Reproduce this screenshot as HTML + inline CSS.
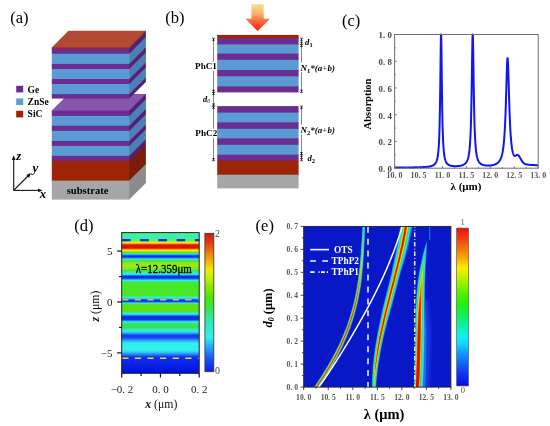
<!DOCTYPE html>
<html><head><meta charset="utf-8"><title>figure</title>
<style>
html,body{margin:0;padding:0;background:#fff;}
svg{display:block;font-family:"Liberation Serif","Times New Roman",serif;}
</style></head><body>
<svg width="550" height="426" viewBox="0 0 550 426">
<rect width="550" height="426" fill="#fff"/>
<text x="10.20" y="23.20" font-size="16.5" font-weight="normal" font-style="normal" fill="#000" text-anchor="start" >(a)</text>
<polygon points="51.80,111.40 51.80,110.60 68.40,94.00 145.90,94.00 145.90,94.80 129.30,111.40" fill="#8656aa" />
<polygon points="128.70,110.60 129.30,110.60 145.90,94.00 145.90,100.00 129.30,116.60 128.70,116.60" fill="#551f78" />
<rect x="51.80" y="110.60" width="77.50" height="6.00" fill="#6b2d8f" />
<polygon points="128.70,115.90 129.30,115.90 145.90,99.30 145.90,109.80 129.30,126.40 128.70,126.40" fill="#4a80b5" />
<rect x="51.80" y="115.90" width="77.50" height="10.50" fill="#5b9bd5" />
<polygon points="128.70,125.70 129.30,125.70 145.90,109.10 145.90,115.00 129.30,131.60 128.70,131.60" fill="#551f78" />
<rect x="51.80" y="125.70" width="77.50" height="5.90" fill="#6b2d8f" />
<polygon points="128.70,130.90 129.30,130.90 145.90,114.30 145.90,125.10 129.30,141.70 128.70,141.70" fill="#4a80b5" />
<rect x="51.80" y="130.90" width="77.50" height="10.80" fill="#5b9bd5" />
<polygon points="128.70,141.00 129.30,141.00 145.90,124.40 145.90,130.00 129.30,146.60 128.70,146.60" fill="#551f78" />
<rect x="51.80" y="141.00" width="77.50" height="5.60" fill="#6b2d8f" />
<polygon points="128.70,145.90 129.30,145.90 145.90,129.30 145.90,139.90 129.30,156.50 128.70,156.50" fill="#4a80b5" />
<rect x="51.80" y="145.90" width="77.50" height="10.60" fill="#5b9bd5" />
<polygon points="128.70,155.80 129.30,155.80 145.90,139.20 145.90,145.00 129.30,161.60 128.70,161.60" fill="#551f78" />
<rect x="51.80" y="155.80" width="77.50" height="5.80" fill="#6b2d8f" />
<polygon points="128.70,160.90 129.30,160.90 145.90,144.30 145.90,164.70 129.30,181.30 128.70,181.30" fill="#7a1c08" />
<rect x="51.80" y="160.90" width="77.50" height="20.40" fill="#9e2408" />
<polygon points="128.70,180.60 129.30,180.60 145.90,164.00 145.90,183.00 129.30,199.60 128.70,199.60" fill="#8b8b8b" />
<rect x="51.80" y="180.60" width="77.50" height="19.00" fill="#a6a6a6" />
<polygon points="51.80,48.20 51.80,47.40 68.40,30.80 145.90,30.80 145.90,31.60 129.30,48.20" fill="#b04a33" />
<polygon points="128.70,47.40 129.30,47.40 145.90,30.80 145.90,32.70 129.30,49.30 128.70,49.30" fill="#8a2010" />
<rect x="51.80" y="47.40" width="77.50" height="1.90" fill="#a8280c" />
<polygon points="128.70,48.60 129.30,48.60 145.90,32.00 145.90,37.80 129.30,54.40 128.70,54.40" fill="#551f78" />
<rect x="51.80" y="48.60" width="77.50" height="5.80" fill="#6b2d8f" />
<polygon points="128.70,53.70 129.30,53.70 145.90,37.10 145.90,48.00 129.30,64.60 128.70,64.60" fill="#4a80b5" />
<rect x="51.80" y="53.70" width="77.50" height="10.90" fill="#5b9bd5" />
<polygon points="128.70,63.90 129.30,63.90 145.90,47.30 145.90,53.20 129.30,69.80 128.70,69.80" fill="#551f78" />
<rect x="51.80" y="63.90" width="77.50" height="5.90" fill="#6b2d8f" />
<polygon points="128.70,69.10 129.30,69.10 145.90,52.50 145.90,63.10 129.30,79.70 128.70,79.70" fill="#4a80b5" />
<rect x="51.80" y="69.10" width="77.50" height="10.60" fill="#5b9bd5" />
<polygon points="128.70,79.00 129.30,79.00 145.90,62.40 145.90,68.10 129.30,84.70 128.70,84.70" fill="#551f78" />
<rect x="51.80" y="79.00" width="77.50" height="5.70" fill="#6b2d8f" />
<polygon points="128.70,84.00 129.30,84.00 145.90,67.40 145.90,78.20 129.30,94.80 128.70,94.80" fill="#4a80b5" />
<rect x="51.80" y="84.00" width="77.50" height="10.80" fill="#5b9bd5" />
<polygon points="128.70,94.10 129.30,94.10 145.90,77.50 145.90,82.00 129.30,98.60 128.70,98.60" fill="#551f78" />
<rect x="51.80" y="94.10" width="77.50" height="4.50" fill="#6b2d8f" />
<text x="87.60" y="193.60" font-size="10.6" font-weight="bold" font-style="normal" fill="#000" text-anchor="middle" >substrate</text>
<rect x="16.20" y="85.80" width="7.00" height="6.60" fill="#6b2d8f" />
<text x="27.60" y="92.60" font-size="9.5" font-weight="bold" font-style="normal" fill="#000" text-anchor="start" >Ge</text>
<rect x="16.20" y="98.40" width="7.00" height="6.60" fill="#5b9bd5" />
<text x="27.60" y="104.50" font-size="9.5" font-weight="bold" font-style="normal" fill="#000" text-anchor="start" >ZnSe</text>
<rect x="16.20" y="110.80" width="7.00" height="6.60" fill="#9e2408" />
<text x="27.60" y="116.90" font-size="9.5" font-weight="bold" font-style="normal" fill="#000" text-anchor="start" >SiC</text>
<g stroke="#111" stroke-width="1.1" fill="none">
<path d="M13.7,190.4 V158"/><path d="M13.7,190.4 H40"/><path d="M13.7,190.4 L29,175"/>
</g>
<polygon points="13.70,155.20 11.80,160.00 15.60,160.00" fill="#111" />
<polygon points="42.60,190.40 38.00,188.50 38.00,192.30" fill="#111" />
<polygon points="31.00,172.90 26.30,175.00 29.00,177.70" fill="#111" />
<text x="16.30" y="159.90" font-size="12.8" font-weight="bold" font-style="italic" fill="#000" text-anchor="start" >z</text>
<text x="32.40" y="172.40" font-size="12.8" font-weight="bold" font-style="italic" fill="#000" text-anchor="start" >y</text>
<text x="39.80" y="198.40" font-size="12.8" font-weight="bold" font-style="italic" fill="#000" text-anchor="start" >x</text>
<text x="165.20" y="23.20" font-size="16.5" font-weight="normal" font-style="normal" fill="#000" text-anchor="start" >(b)</text>
<rect x="217.20" y="34.90" width="81.40" height="3.90" fill="#9e2408" />
<rect x="217.20" y="38.20" width="81.40" height="6.80" fill="#6b2d8f" />
<rect x="217.20" y="44.40" width="81.40" height="9.80" fill="#5b9bd5" />
<rect x="217.20" y="53.60" width="81.40" height="6.80" fill="#6b2d8f" />
<rect x="217.20" y="59.80" width="81.40" height="10.80" fill="#5b9bd5" />
<rect x="217.20" y="70.00" width="81.40" height="6.90" fill="#6b2d8f" />
<rect x="217.20" y="76.30" width="81.40" height="10.70" fill="#5b9bd5" />
<rect x="217.20" y="86.40" width="81.40" height="6.00" fill="#6b2d8f" />
<rect x="217.20" y="106.10" width="81.40" height="7.10" fill="#6b2d8f" />
<rect x="217.20" y="112.60" width="81.40" height="10.40" fill="#5b9bd5" />
<rect x="217.20" y="122.40" width="81.40" height="7.00" fill="#6b2d8f" />
<rect x="217.20" y="128.80" width="81.40" height="10.20" fill="#5b9bd5" />
<rect x="217.20" y="138.40" width="81.40" height="7.00" fill="#6b2d8f" />
<rect x="217.20" y="144.80" width="81.40" height="10.50" fill="#5b9bd5" />
<rect x="217.20" y="154.70" width="81.40" height="6.60" fill="#6b2d8f" />
<rect x="217.20" y="160.70" width="81.40" height="14.60" fill="#9e2408" />
<rect x="217.20" y="174.70" width="81.40" height="13.70" fill="#a6a6a6" />
<defs><linearGradient id="arr" x1="0" y1="0" x2="0" y2="1"><stop offset="0" stop-color="#f9e08c"/><stop offset="0.35" stop-color="#f9b070"/><stop offset="0.62" stop-color="#fc6a40"/><stop offset="1" stop-color="#ff1a10"/></linearGradient></defs>
<path d="M251.4,4.2 H263.7 V18.8 H270 L257.6,31 L245.4,18.8 H251.4 Z" fill="url(#arr)"/>
<line x1="213.5" y1="38.20" x2="213.5" y2="61.50" stroke="#858585" stroke-width="1.0"/>
<line x1="213.5" y1="71.00" x2="213.5" y2="92.40" stroke="#858585" stroke-width="1.0"/>
<polygon points="213.50,38.40 212.20,40.80 214.80,40.80" fill="#111" />
<polygon points="213.50,92.20 212.20,89.80 214.80,89.80" fill="#111" />
<line x1="211.9" y1="38.20" x2="215.1" y2="38.20" stroke="#222" stroke-width="0.7"/>
<line x1="211.9" y1="92.40" x2="215.1" y2="92.40" stroke="#222" stroke-width="0.7"/>
<line x1="213.5" y1="92.40" x2="213.5" y2="106.10" stroke="#858585" stroke-width="1.0"/>
<polygon points="213.50,92.60 212.20,95.00 214.80,95.00" fill="#111" />
<polygon points="213.50,105.90 212.20,103.50 214.80,103.50" fill="#111" />
<line x1="211.9" y1="92.40" x2="215.1" y2="92.40" stroke="#222" stroke-width="0.7"/>
<line x1="211.9" y1="106.10" x2="215.1" y2="106.10" stroke="#222" stroke-width="0.7"/>
<line x1="213.5" y1="106.10" x2="213.5" y2="128.50" stroke="#858585" stroke-width="1.0"/>
<line x1="213.5" y1="138.00" x2="213.5" y2="160.70" stroke="#858585" stroke-width="1.0"/>
<polygon points="213.50,106.30 212.20,108.70 214.80,108.70" fill="#111" />
<polygon points="213.50,160.50 212.20,158.10 214.80,158.10" fill="#111" />
<line x1="211.9" y1="106.10" x2="215.1" y2="106.10" stroke="#222" stroke-width="0.7"/>
<line x1="211.9" y1="160.70" x2="215.1" y2="160.70" stroke="#222" stroke-width="0.7"/>
<line x1="301.5" y1="38.20" x2="301.5" y2="44.40" stroke="#858585" stroke-width="1.0"/>
<polygon points="301.50,38.40 300.20,40.80 302.80,40.80" fill="#111" />
<polygon points="301.50,44.20 300.20,41.80 302.80,41.80" fill="#111" />
<line x1="299.9" y1="38.20" x2="303.1" y2="38.20" stroke="#222" stroke-width="0.7"/>
<line x1="299.9" y1="44.40" x2="303.1" y2="44.40" stroke="#222" stroke-width="0.7"/>
<line x1="301.5" y1="44.40" x2="301.5" y2="62.50" stroke="#858585" stroke-width="1.0"/>
<line x1="301.5" y1="72.30" x2="301.5" y2="92.40" stroke="#858585" stroke-width="1.0"/>
<polygon points="301.50,44.60 300.20,47.00 302.80,47.00" fill="#111" />
<polygon points="301.50,92.20 300.20,89.80 302.80,89.80" fill="#111" />
<line x1="299.9" y1="44.40" x2="303.1" y2="44.40" stroke="#222" stroke-width="0.7"/>
<line x1="299.9" y1="92.40" x2="303.1" y2="92.40" stroke="#222" stroke-width="0.7"/>
<line x1="301.5" y1="106.10" x2="301.5" y2="124.50" stroke="#858585" stroke-width="1.0"/>
<line x1="301.5" y1="134.50" x2="301.5" y2="154.70" stroke="#858585" stroke-width="1.0"/>
<polygon points="301.50,106.30 300.20,108.70 302.80,108.70" fill="#111" />
<polygon points="301.50,154.50 300.20,152.10 302.80,152.10" fill="#111" />
<line x1="299.9" y1="106.10" x2="303.1" y2="106.10" stroke="#222" stroke-width="0.7"/>
<line x1="299.9" y1="154.70" x2="303.1" y2="154.70" stroke="#222" stroke-width="0.7"/>
<line x1="301.5" y1="154.70" x2="301.5" y2="160.70" stroke="#858585" stroke-width="1.0"/>
<polygon points="301.50,154.90 300.20,157.30 302.80,157.30" fill="#111" />
<polygon points="301.50,160.50 300.20,158.10 302.80,158.10" fill="#111" />
<line x1="299.9" y1="154.70" x2="303.1" y2="154.70" stroke="#222" stroke-width="0.7"/>
<line x1="299.9" y1="160.70" x2="303.1" y2="160.70" stroke="#222" stroke-width="0.7"/>
<text x="206.00" y="68.80" font-size="9.2" font-weight="bold" font-style="normal" fill="#000" text-anchor="middle" >PhC1</text>
<text x="206.30" y="136.00" font-size="9.2" font-weight="bold" font-style="normal" fill="#000" text-anchor="middle" >PhC2</text>
<text x="202.90" y="101.80" font-size="8.4" font-weight="bold" font-style="italic" fill="#000" text-anchor="start" >d<tspan font-size="6.5" dy="1.4" fill="#666">0</tspan></text>
<text x="305.10" y="44.70" font-size="8.6" font-weight="bold" font-style="italic" fill="#000" text-anchor="start" >d<tspan font-size="6.5" dy="1.9" font-style="normal">1</tspan></text>
<text x="307.50" y="160.60" font-size="8.6" font-weight="bold" font-style="italic" fill="#000" text-anchor="start" >d<tspan font-size="6.5" dy="1.9" font-style="normal">2</tspan></text>
<text x="300.60" y="70.60" font-size="9.0" font-weight="bold" font-style="italic" fill="#000" text-anchor="start" >N<tspan font-size="6.5" dy="2.0" font-style="normal">1</tspan><tspan dy="-2.0">*(<tspan>a</tspan><tspan font-style="normal" fill="#555">+</tspan>b)</tspan></text>
<text x="300.60" y="132.60" font-size="9.0" font-weight="bold" font-style="italic" fill="#000" text-anchor="start" >N<tspan font-size="6.5" dy="2.0" font-style="normal">2</tspan><tspan dy="-2.0">*(<tspan>a</tspan><tspan font-style="normal" fill="#555">+</tspan>b)</tspan></text>
<text x="342.00" y="26.00" font-size="16.5" font-weight="normal" font-style="normal" fill="#000" text-anchor="start" >(c)</text>
<path d="M394.60,167.53 L394.70,167.53 L394.81,167.53 L394.91,167.53 L395.01,167.53 L395.11,167.53 L395.22,167.53 L395.32,167.53 L395.42,167.53 L395.52,167.53 L395.63,167.53 L395.73,167.53 L395.83,167.53 L395.93,167.53 L396.04,167.53 L396.14,167.53 L396.24,167.53 L396.34,167.53 L396.45,167.53 L396.55,167.53 L396.65,167.53 L396.75,167.52 L396.86,167.52 L396.96,167.52 L397.06,167.52 L397.16,167.52 L397.27,167.52 L397.37,167.52 L397.47,167.52 L397.57,167.52 L397.68,167.52 L397.78,167.52 L397.88,167.52 L397.98,167.52 L398.09,167.52 L398.19,167.52 L398.29,167.52 L398.40,167.52 L398.50,167.52 L398.60,167.52 L398.70,167.51 L398.81,167.51 L398.91,167.51 L399.01,167.51 L399.11,167.51 L399.22,167.51 L399.32,167.51 L399.42,167.51 L399.52,167.51 L399.63,167.51 L399.73,167.51 L399.83,167.51 L399.93,167.51 L400.04,167.51 L400.14,167.51 L400.24,167.51 L400.34,167.51 L400.45,167.51 L400.55,167.50 L400.65,167.50 L400.75,167.50 L400.86,167.50 L400.96,167.50 L401.06,167.50 L401.16,167.50 L401.27,167.50 L401.37,167.50 L401.47,167.50 L401.57,167.50 L401.68,167.50 L401.78,167.50 L401.88,167.50 L401.99,167.50 L402.09,167.50 L402.19,167.49 L402.29,167.49 L402.40,167.49 L402.50,167.49 L402.60,167.49 L402.70,167.49 L402.81,167.49 L402.91,167.49 L403.01,167.49 L403.11,167.49 L403.22,167.49 L403.32,167.49 L403.42,167.49 L403.52,167.49 L403.63,167.48 L403.73,167.48 L403.83,167.48 L403.93,167.48 L404.04,167.48 L404.14,167.48 L404.24,167.48 L404.34,167.48 L404.45,167.48 L404.55,167.48 L404.65,167.48 L404.75,167.48 L404.86,167.48 L404.96,167.47 L405.06,167.47 L405.16,167.47 L405.27,167.47 L405.37,167.47 L405.47,167.47 L405.58,167.47 L405.68,167.47 L405.78,167.47 L405.88,167.47 L405.99,167.47 L406.09,167.47 L406.19,167.46 L406.29,167.46 L406.40,167.46 L406.50,167.46 L406.60,167.46 L406.70,167.46 L406.81,167.46 L406.91,167.46 L407.01,167.46 L407.11,167.46 L407.22,167.46 L407.32,167.45 L407.42,167.45 L407.52,167.45 L407.63,167.45 L407.73,167.45 L407.83,167.45 L407.93,167.45 L408.04,167.45 L408.14,167.45 L408.24,167.45 L408.34,167.44 L408.45,167.44 L408.55,167.44 L408.65,167.44 L408.75,167.44 L408.86,167.44 L408.96,167.44 L409.06,167.44 L409.17,167.44 L409.27,167.43 L409.37,167.43 L409.47,167.43 L409.58,167.43 L409.68,167.43 L409.78,167.43 L409.88,167.43 L409.99,167.43 L410.09,167.43 L410.19,167.42 L410.29,167.42 L410.40,167.42 L410.50,167.42 L410.60,167.42 L410.70,167.42 L410.81,167.42 L410.91,167.42 L411.01,167.41 L411.11,167.41 L411.22,167.41 L411.32,167.41 L411.42,167.41 L411.52,167.41 L411.63,167.41 L411.73,167.40 L411.83,167.40 L411.93,167.40 L412.04,167.40 L412.14,167.40 L412.24,167.40 L412.34,167.40 L412.45,167.39 L412.55,167.39 L412.65,167.39 L412.76,167.39 L412.86,167.39 L412.96,167.39 L413.06,167.39 L413.17,167.38 L413.27,167.38 L413.37,167.38 L413.47,167.38 L413.58,167.38 L413.68,167.38 L413.78,167.37 L413.88,167.37 L413.99,167.37 L414.09,167.37 L414.19,167.37 L414.29,167.37 L414.40,167.36 L414.50,167.36 L414.60,167.36 L414.70,167.36 L414.81,167.36 L414.91,167.35 L415.01,167.35 L415.11,167.35 L415.22,167.35 L415.32,167.35 L415.42,167.35 L415.52,167.34 L415.63,167.34 L415.73,167.34 L415.83,167.34 L415.93,167.34 L416.04,167.33 L416.14,167.33 L416.24,167.33 L416.35,167.33 L416.45,167.32 L416.55,167.32 L416.65,167.32 L416.76,167.32 L416.86,167.32 L416.96,167.31 L417.06,167.31 L417.17,167.31 L417.27,167.31 L417.37,167.30 L417.47,167.30 L417.58,167.30 L417.68,167.30 L417.78,167.29 L417.88,167.29 L417.99,167.29 L418.09,167.29 L418.19,167.28 L418.29,167.28 L418.40,167.28 L418.50,167.27 L418.60,167.27 L418.70,167.27 L418.81,167.27 L418.91,167.26 L419.01,167.26 L419.11,167.26 L419.22,167.25 L419.32,167.25 L419.42,167.25 L419.52,167.24 L419.63,167.24 L419.73,167.24 L419.83,167.24 L419.94,167.23 L420.04,167.23 L420.14,167.23 L420.24,167.22 L420.35,167.22 L420.45,167.21 L420.55,167.21 L420.65,167.21 L420.76,167.20 L420.86,167.20 L420.96,167.20 L421.06,167.19 L421.17,167.19 L421.27,167.18 L421.37,167.18 L421.47,167.18 L421.58,167.17 L421.68,167.17 L421.78,167.16 L421.88,167.16 L421.99,167.15 L422.09,167.15 L422.19,167.15 L422.29,167.14 L422.40,167.14 L422.50,167.13 L422.60,167.13 L422.70,167.12 L422.81,167.12 L422.91,167.11 L423.01,167.11 L423.11,167.10 L423.22,167.10 L423.32,167.09 L423.42,167.09 L423.53,167.08 L423.63,167.07 L423.73,167.07 L423.83,167.06 L423.94,167.06 L424.04,167.05 L424.14,167.04 L424.24,167.04 L424.35,167.03 L424.45,167.03 L424.55,167.02 L424.65,167.01 L424.76,167.01 L424.86,167.00 L424.96,166.99 L425.06,166.98 L425.17,166.98 L425.27,166.97 L425.37,166.96 L425.47,166.95 L425.58,166.95 L425.68,166.94 L425.78,166.93 L425.88,166.92 L425.99,166.91 L426.09,166.90 L426.19,166.90 L426.29,166.89 L426.40,166.88 L426.50,166.87 L426.60,166.86 L426.70,166.85 L426.81,166.84 L426.91,166.83 L427.01,166.82 L427.12,166.81 L427.22,166.80 L427.32,166.79 L427.42,166.78 L427.53,166.76 L427.63,166.75 L427.73,166.74 L427.83,166.73 L427.94,166.71 L428.04,166.70 L428.14,166.69 L428.24,166.68 L428.35,166.66 L428.45,166.65 L428.55,166.63 L428.65,166.62 L428.76,166.60 L428.86,166.59 L428.96,166.57 L429.06,166.56 L429.17,166.54 L429.27,166.52 L429.37,166.50 L429.47,166.49 L429.58,166.47 L429.68,166.45 L429.78,166.43 L429.88,166.41 L429.99,166.39 L430.09,166.37 L430.19,166.35 L430.29,166.32 L430.40,166.30 L430.50,166.28 L430.60,166.25 L430.71,166.23 L430.81,166.20 L430.91,166.18 L431.01,166.15 L431.12,166.12 L431.22,166.09 L431.32,166.06 L431.42,166.03 L431.53,166.00 L431.63,165.97 L431.73,165.94 L431.83,165.90 L431.94,165.87 L432.04,165.83 L432.14,165.79 L432.24,165.75 L432.35,165.71 L432.45,165.67 L432.55,165.63 L432.65,165.58 L432.76,165.53 L432.86,165.49 L432.96,165.44 L433.06,165.38 L433.17,165.33 L433.27,165.27 L433.37,165.21 L433.47,165.15 L433.58,165.09 L433.68,165.03 L433.78,164.96 L433.88,164.89 L433.99,164.81 L434.09,164.73 L434.19,164.65 L434.30,164.57 L434.40,164.48 L434.50,164.39 L434.60,164.29 L434.71,164.19 L434.81,164.09 L434.91,163.98 L435.01,163.86 L435.12,163.74 L435.22,163.61 L435.32,163.48 L435.42,163.34 L435.53,163.19 L435.63,163.03 L435.73,162.87 L435.83,162.69 L435.94,162.51 L436.04,162.31 L436.14,162.10 L436.24,161.88 L436.35,161.65 L436.45,161.40 L436.55,161.14 L436.65,160.86 L436.76,160.56 L436.86,160.23 L436.96,159.89 L437.06,159.52 L437.17,159.13 L437.27,158.71 L437.37,158.25 L437.47,157.76 L437.58,157.23 L437.68,156.65 L437.78,156.03 L437.89,155.35 L437.99,154.61 L438.09,153.81 L438.19,152.93 L438.30,151.97 L438.40,150.91 L438.50,149.75 L438.60,148.47 L438.71,147.05 L438.81,145.48 L438.91,143.73 L439.01,141.78 L439.12,139.60 L439.22,137.16 L439.32,134.43 L439.42,131.35 L439.53,127.88 L439.63,123.97 L439.73,119.56 L439.83,114.59 L439.94,109.01 L440.04,102.76 L440.14,95.82 L440.24,88.20 L440.35,79.97 L440.45,71.30 L440.55,62.45 L440.65,53.86 L440.76,46.06 L440.86,39.71 L440.96,35.43 L441.06,34.50 L441.17,34.69 L441.27,38.34 L441.37,44.19 L441.48,51.66 L441.58,60.10 L441.68,68.92 L441.78,77.67 L441.89,86.04 L441.99,93.83 L442.09,100.95 L442.19,107.37 L442.30,113.13 L442.40,118.25 L442.50,122.80 L442.60,126.83 L442.71,130.41 L442.81,133.58 L442.91,136.41 L443.01,138.92 L443.12,141.16 L443.22,143.16 L443.32,144.96 L443.42,146.57 L443.53,148.02 L443.63,149.34 L443.73,150.53 L443.83,151.61 L443.94,152.59 L444.04,153.49 L444.14,154.31 L444.24,155.06 L444.35,155.75 L444.45,156.38 L444.55,156.96 L444.65,157.50 L444.76,158.00 L444.86,158.46 L444.96,158.89 L445.07,159.29 L445.17,159.66 L445.27,160.01 L445.37,160.33 L445.48,160.63 L445.58,160.91 L445.68,161.18 L445.78,161.43 L445.89,161.66 L445.99,161.88 L446.09,162.09 L446.19,162.28 L446.30,162.47 L446.40,162.64 L446.50,162.80 L446.60,162.96 L446.71,163.11 L446.81,163.25 L446.91,163.38 L447.01,163.50 L447.12,163.62 L447.22,163.74 L447.32,163.84 L447.42,163.95 L447.53,164.05 L447.63,164.14 L447.73,164.23 L447.83,164.31 L447.94,164.39 L448.04,164.47 L448.14,164.54 L448.24,164.62 L448.35,164.68 L448.45,164.75 L448.55,164.81 L448.66,164.87 L448.76,164.93 L448.86,164.98 L448.96,165.03 L449.07,165.08 L449.17,165.13 L449.27,165.18 L449.37,165.22 L449.48,165.26 L449.58,165.30 L449.68,165.34 L449.78,165.38 L449.89,165.42 L449.99,165.45 L450.09,165.49 L450.19,165.52 L450.30,165.55 L450.40,165.58 L450.50,165.61 L450.60,165.63 L450.71,165.66 L450.81,165.69 L450.91,165.71 L451.01,165.73 L451.12,165.76 L451.22,165.78 L451.32,165.80 L451.42,165.82 L451.53,165.84 L451.63,165.86 L451.73,165.88 L451.83,165.89 L451.94,165.91 L452.04,165.92 L452.14,165.94 L452.25,165.95 L452.35,165.97 L452.45,165.98 L452.55,165.99 L452.66,166.01 L452.76,166.02 L452.86,166.03 L452.96,166.04 L453.07,166.05 L453.17,166.06 L453.27,166.07 L453.37,166.08 L453.48,166.08 L453.58,166.09 L453.68,166.10 L453.78,166.11 L453.89,166.11 L453.99,166.12 L454.09,166.12 L454.19,166.13 L454.30,166.13 L454.40,166.14 L454.50,166.14 L454.60,166.15 L454.71,166.15 L454.81,166.15 L454.91,166.15 L455.01,166.16 L455.12,166.16 L455.22,166.16 L455.32,166.16 L455.42,166.16 L455.53,166.16 L455.63,166.16 L455.73,166.16 L455.84,166.16 L455.94,166.16 L456.04,166.16 L456.14,166.16 L456.25,166.15 L456.35,166.15 L456.45,166.15 L456.55,166.15 L456.66,166.14 L456.76,166.14 L456.86,166.13 L456.96,166.13 L457.07,166.13 L457.17,166.12 L457.27,166.12 L457.37,166.11 L457.48,166.10 L457.58,166.10 L457.68,166.09 L457.78,166.08 L457.89,166.08 L457.99,166.07 L458.09,166.06 L458.19,166.05 L458.30,166.04 L458.40,166.03 L458.50,166.02 L458.60,166.01 L458.71,166.00 L458.81,165.99 L458.91,165.98 L459.01,165.97 L459.12,165.95 L459.22,165.94 L459.32,165.93 L459.43,165.91 L459.53,165.90 L459.63,165.88 L459.73,165.87 L459.84,165.85 L459.94,165.84 L460.04,165.82 L460.14,165.80 L460.25,165.78 L460.35,165.76 L460.45,165.75 L460.55,165.73 L460.66,165.70 L460.76,165.68 L460.86,165.66 L460.96,165.64 L461.07,165.62 L461.17,165.59 L461.27,165.57 L461.37,165.54 L461.48,165.51 L461.58,165.49 L461.68,165.46 L461.78,165.43 L461.89,165.40 L461.99,165.37 L462.09,165.34 L462.19,165.30 L462.30,165.27 L462.40,165.24 L462.50,165.20 L462.60,165.16 L462.71,165.12 L462.81,165.08 L462.91,165.04 L463.02,165.00 L463.12,164.95 L463.22,164.91 L463.32,164.86 L463.43,164.81 L463.53,164.76 L463.63,164.71 L463.73,164.66 L463.84,164.60 L463.94,164.54 L464.04,164.48 L464.14,164.42 L464.25,164.35 L464.35,164.29 L464.45,164.22 L464.55,164.15 L464.66,164.07 L464.76,163.99 L464.86,163.91 L464.96,163.83 L465.07,163.74 L465.17,163.65 L465.27,163.56 L465.37,163.46 L465.48,163.35 L465.58,163.25 L465.68,163.14 L465.78,163.02 L465.89,162.90 L465.99,162.77 L466.09,162.64 L466.19,162.50 L466.30,162.35 L466.40,162.20 L466.50,162.04 L466.61,161.87 L466.71,161.70 L466.81,161.52 L466.91,161.32 L467.02,161.12 L467.12,160.90 L467.22,160.68 L467.32,160.44 L467.43,160.19 L467.53,159.93 L467.63,159.65 L467.73,159.35 L467.84,159.04 L467.94,158.71 L468.04,158.36 L468.14,157.98 L468.25,157.59 L468.35,157.16 L468.45,156.71 L468.55,156.23 L468.66,155.72 L468.76,155.17 L468.86,154.59 L468.96,153.96 L469.07,153.28 L469.17,152.55 L469.27,151.77 L469.37,150.93 L469.48,150.02 L469.58,149.03 L469.68,147.96 L469.78,146.80 L469.89,145.54 L469.99,144.16 L470.09,142.67 L470.20,141.03 L470.30,139.24 L470.40,137.27 L470.50,135.12 L470.61,132.75 L470.71,130.15 L470.81,127.28 L470.91,124.11 L471.02,120.63 L471.12,116.79 L471.22,112.57 L471.32,107.93 L471.43,102.85 L471.53,97.33 L471.63,91.35 L471.73,84.95 L471.84,78.19 L471.94,71.15 L472.04,64.00 L472.14,56.95 L472.25,50.28 L472.35,44.29 L472.45,39.34 L472.55,35.75 L472.66,34.50 L472.76,34.50 L472.86,35.22 L472.96,38.50 L473.07,43.20 L473.17,49.00 L473.27,55.56 L473.37,62.56 L473.48,69.71 L473.58,76.77 L473.68,83.60 L473.79,90.08 L473.89,96.14 L473.99,101.75 L474.09,106.91 L474.20,111.64 L474.30,115.94 L474.40,119.85 L474.50,123.40 L474.61,126.62 L474.71,129.54 L474.81,132.20 L474.91,134.61 L475.02,136.80 L475.12,138.80 L475.22,140.62 L475.32,142.29 L475.43,143.81 L475.53,145.20 L475.63,146.48 L475.73,147.66 L475.84,148.74 L475.94,149.74 L476.04,150.67 L476.14,151.52 L476.25,152.31 L476.35,153.05 L476.45,153.73 L476.55,154.37 L476.66,154.96 L476.76,155.51 L476.86,156.03 L476.96,156.51 L477.07,156.97 L477.17,157.39 L477.27,157.79 L477.38,158.17 L477.48,158.52 L477.58,158.85 L477.68,159.17 L477.79,159.46 L477.89,159.74 L477.99,160.01 L478.09,160.26 L478.20,160.49 L478.30,160.72 L478.40,160.93 L478.50,161.13 L478.61,161.33 L478.71,161.51 L478.81,161.68 L478.91,161.85 L479.02,162.01 L479.12,162.16 L479.22,162.30 L479.32,162.44 L479.43,162.57 L479.53,162.69 L479.63,162.81 L479.73,162.93 L479.84,163.04 L479.94,163.14 L480.04,163.24 L480.14,163.34 L480.25,163.43 L480.35,163.52 L480.45,163.61 L480.55,163.69 L480.66,163.77 L480.76,163.84 L480.86,163.91 L480.97,163.98 L481.07,164.05 L481.17,164.11 L481.27,164.17 L481.38,164.23 L481.48,164.29 L481.58,164.35 L481.68,164.40 L481.79,164.45 L481.89,164.50 L481.99,164.55 L482.09,164.59 L482.20,164.64 L482.30,164.68 L482.40,164.72 L482.50,164.76 L482.61,164.80 L482.71,164.83 L482.81,164.87 L482.91,164.90 L483.02,164.94 L483.12,164.97 L483.22,165.00 L483.32,165.03 L483.43,165.05 L483.53,165.08 L483.63,165.11 L483.73,165.13 L483.84,165.16 L483.94,165.18 L484.04,165.20 L484.14,165.22 L484.25,165.25 L484.35,165.27 L484.45,165.28 L484.56,165.30 L484.66,165.32 L484.76,165.34 L484.86,165.35 L484.97,165.37 L485.07,165.38 L485.17,165.40 L485.27,165.41 L485.38,165.43 L485.48,165.44 L485.58,165.45 L485.68,165.46 L485.79,165.47 L485.89,165.48 L485.99,165.49 L486.09,165.50 L486.20,165.51 L486.30,165.52 L486.40,165.52 L486.50,165.53 L486.61,165.54 L486.71,165.54 L486.81,165.55 L486.91,165.55 L487.02,165.56 L487.12,165.56 L487.22,165.57 L487.32,165.57 L487.43,165.57 L487.53,165.58 L487.63,165.58 L487.73,165.58 L487.84,165.58 L487.94,165.58 L488.04,165.58 L488.15,165.58 L488.25,165.58 L488.35,165.58 L488.45,165.58 L488.56,165.58 L488.66,165.57 L488.76,165.57 L488.86,165.57 L488.97,165.56 L489.07,165.56 L489.17,165.56 L489.27,165.55 L489.38,165.55 L489.48,165.54 L489.58,165.53 L489.68,165.53 L489.79,165.52 L489.89,165.51 L489.99,165.51 L490.09,165.50 L490.20,165.49 L490.30,165.48 L490.40,165.47 L490.50,165.46 L490.61,165.45 L490.71,165.44 L490.81,165.43 L490.91,165.42 L491.02,165.40 L491.12,165.39 L491.22,165.38 L491.32,165.37 L491.43,165.35 L491.53,165.34 L491.63,165.32 L491.74,165.31 L491.84,165.29 L491.94,165.27 L492.04,165.26 L492.15,165.24 L492.25,165.22 L492.35,165.20 L492.45,165.18 L492.56,165.16 L492.66,165.14 L492.76,165.12 L492.86,165.10 L492.97,165.08 L493.07,165.05 L493.17,165.03 L493.27,165.01 L493.38,164.98 L493.48,164.95 L493.58,164.93 L493.68,164.90 L493.79,164.87 L493.89,164.84 L493.99,164.81 L494.09,164.78 L494.20,164.75 L494.30,164.72 L494.40,164.69 L494.50,164.65 L494.61,164.62 L494.71,164.58 L494.81,164.54 L494.91,164.51 L495.02,164.47 L495.12,164.43 L495.22,164.38 L495.33,164.34 L495.43,164.30 L495.53,164.25 L495.63,164.21 L495.74,164.16 L495.84,164.11 L495.94,164.06 L496.04,164.01 L496.15,163.96 L496.25,163.90 L496.35,163.85 L496.45,163.79 L496.56,163.73 L496.66,163.67 L496.76,163.60 L496.86,163.54 L496.97,163.47 L497.07,163.40 L497.17,163.33 L497.27,163.26 L497.38,163.18 L497.48,163.11 L497.58,163.03 L497.68,162.94 L497.79,162.86 L497.89,162.77 L497.99,162.68 L498.09,162.59 L498.20,162.49 L498.30,162.39 L498.40,162.29 L498.50,162.18 L498.61,162.07 L498.71,161.96 L498.81,161.84 L498.92,161.72 L499.02,161.59 L499.12,161.46 L499.22,161.33 L499.33,161.19 L499.43,161.04 L499.53,160.89 L499.63,160.74 L499.74,160.58 L499.84,160.41 L499.94,160.24 L500.04,160.06 L500.15,159.87 L500.25,159.68 L500.35,159.47 L500.45,159.26 L500.56,159.05 L500.66,158.82 L500.76,158.58 L500.86,158.34 L500.97,158.08 L501.07,157.81 L501.17,157.53 L501.27,157.24 L501.38,156.94 L501.48,156.62 L501.58,156.29 L501.68,155.94 L501.79,155.57 L501.89,155.19 L501.99,154.79 L502.09,154.38 L502.20,153.94 L502.30,153.48 L502.40,152.99 L502.51,152.49 L502.61,151.95 L502.71,151.39 L502.81,150.80 L502.92,150.18 L503.02,149.52 L503.12,148.83 L503.22,148.10 L503.33,147.33 L503.43,146.52 L503.53,145.66 L503.63,144.75 L503.74,143.78 L503.84,142.77 L503.94,141.68 L504.04,140.54 L504.15,139.32 L504.25,138.03 L504.35,136.67 L504.45,135.21 L504.56,133.67 L504.66,132.03 L504.76,130.29 L504.86,128.44 L504.97,126.48 L505.07,124.40 L505.17,122.19 L505.27,119.85 L505.38,117.38 L505.48,114.76 L505.58,112.01 L505.68,109.11 L505.79,106.07 L505.89,102.90 L505.99,99.60 L506.10,96.19 L506.20,92.68 L506.30,89.10 L506.40,85.49 L506.51,81.87 L506.61,78.30 L506.71,74.83 L506.81,71.52 L506.92,68.43 L507.02,65.63 L507.12,63.19 L507.22,61.17 L507.33,59.62 L507.43,58.60 L507.53,58.12 L507.63,58.22 L507.74,58.87 L507.84,60.07 L507.94,61.78 L508.04,63.95 L508.15,66.51 L508.25,69.41 L508.35,72.58 L508.45,75.94 L508.56,79.45 L508.66,83.04 L508.76,86.65 L508.86,90.25 L508.97,93.80 L509.07,97.27 L509.17,100.64 L509.27,103.89 L509.38,107.01 L509.48,109.99 L509.58,112.83 L509.69,115.53 L509.79,118.08 L509.89,120.50 L509.99,122.78 L510.10,124.94 L510.20,126.96 L510.30,128.87 L510.40,130.67 L510.51,132.36 L510.61,133.95 L510.71,135.44 L510.81,136.85 L510.92,138.17 L511.02,139.41 L511.12,140.58 L511.22,141.68 L511.33,142.72 L511.43,143.69 L511.53,144.61 L511.63,145.47 L511.74,146.28 L511.84,147.04 L511.94,147.76 L512.04,148.44 L512.15,149.07 L512.25,149.67 L512.35,150.23 L512.45,150.76 L512.56,151.25 L512.66,151.72 L512.76,152.15 L512.86,152.56 L512.97,152.93 L513.07,153.29 L513.17,153.61 L513.28,153.91 L513.38,154.19 L513.48,154.44 L513.58,154.68 L513.69,154.89 L513.79,155.08 L513.89,155.25 L513.99,155.40 L514.10,155.54 L514.20,155.65 L514.30,155.75 L514.40,155.83 L514.51,155.89 L514.61,155.94 L514.71,155.98 L514.81,156.00 L514.92,156.00 L515.02,156.00 L515.12,155.98 L515.22,155.96 L515.33,155.92 L515.43,155.87 L515.53,155.82 L515.63,155.76 L515.74,155.70 L515.84,155.63 L515.94,155.56 L516.04,155.48 L516.15,155.41 L516.25,155.33 L516.35,155.26 L516.45,155.19 L516.56,155.12 L516.66,155.06 L516.76,155.00 L516.87,154.95 L516.97,154.91 L517.07,154.88 L517.17,154.85 L517.28,154.84 L517.38,154.84 L517.48,154.85 L517.58,154.87 L517.69,154.90 L517.79,154.95 L517.89,155.01 L517.99,155.08 L518.10,155.15 L518.20,155.24 L518.30,155.33 L518.40,155.42 L518.51,155.53 L518.61,155.64 L518.71,155.75 L518.81,155.88 L518.92,156.01 L519.02,156.14 L519.12,156.28 L519.22,156.43 L519.33,156.58 L519.43,156.74 L519.53,156.90 L519.63,157.06 L519.74,157.23 L519.84,157.40 L519.94,157.58 L520.04,157.76 L520.15,157.94 L520.25,158.12 L520.35,158.30 L520.46,158.49 L520.56,158.67 L520.66,158.86 L520.76,159.04 L520.87,159.23 L520.97,159.41 L521.07,159.59 L521.17,159.77 L521.28,159.95 L521.38,160.13 L521.48,160.30 L521.58,160.48 L521.69,160.65 L521.79,160.81 L521.89,160.97 L521.99,161.13 L522.10,161.29 L522.20,161.44 L522.30,161.58 L522.40,161.72 L522.51,161.86 L522.61,161.99 L522.71,162.12 L522.81,162.25 L522.92,162.37 L523.02,162.48 L523.12,162.59 L523.22,162.70 L523.33,162.80 L523.43,162.90 L523.53,162.99 L523.63,163.08 L523.74,163.17 L523.84,163.25 L523.94,163.33 L524.05,163.40 L524.15,163.47 L524.25,163.54 L524.35,163.61 L524.46,163.67 L524.56,163.73 L524.66,163.78 L524.76,163.83 L524.87,163.88 L524.97,163.93 L525.07,163.98 L525.17,164.02 L525.28,164.06 L525.38,164.10 L525.48,164.13 L525.58,164.17 L525.69,164.20 L525.79,164.23 L525.89,164.26 L525.99,164.29 L526.10,164.31 L526.20,164.34 L526.30,164.36 L526.40,164.39 L526.51,164.41 L526.61,164.43 L526.71,164.45 L526.81,164.47 L526.92,164.49 L527.02,164.51 L527.12,164.52 L527.22,164.54 L527.33,164.55 L527.43,164.57 L527.53,164.58 L527.64,164.60 L527.74,164.61 L527.84,164.63 L527.94,164.64 L528.05,164.65 L528.15,164.66 L528.25,164.67 L528.35,164.69 L528.46,164.70 L528.56,164.71 L528.66,164.72 L528.76,164.73 L528.87,164.74 L528.97,164.75 L529.07,164.76 L529.17,164.77 L529.28,164.78 L529.38,164.79 L529.48,164.80 L529.58,164.81 L529.69,164.82 L529.79,164.82 L529.89,164.83 L529.99,164.84 L530.10,164.85 L530.20,164.86 L530.30,164.86 L530.40,164.87 L530.51,164.88 L530.61,164.89 L530.71,164.90 L530.81,164.90 L530.92,164.91 L531.02,164.92 L531.12,164.93 L531.23,164.93 L531.33,164.94 L531.43,164.95 L531.53,164.95 L531.64,164.96 L531.74,164.97 L531.84,164.97 L531.94,164.98 L532.05,164.99 L532.15,164.99 L532.25,165.00 L532.35,165.00 L532.46,165.01 L532.56,165.02 L532.66,165.02 L532.76,165.03 L532.87,165.03 L532.97,165.04 L533.07,165.05 L533.17,165.05 L533.28,165.06 L533.38,165.06 L533.48,165.07 L533.58,165.07 L533.69,165.08 L533.79,165.08 L533.89,165.09 L533.99,165.09 L534.10,165.10 L534.20,165.10 L534.30,165.11 L534.40,165.11 L534.51,165.12 L534.61,165.12 L534.71,165.13 L534.82,165.13 L534.92,165.14 L535.02,165.14 L535.12,165.15 L535.23,165.15 L535.33,165.15 L535.43,165.16 L535.53,165.16 L535.64,165.17 L535.74,165.17 L535.84,165.18 L535.94,165.18 L536.05,165.18 L536.15,165.19 L536.25,165.19 L536.35,165.20 L536.46,165.20 L536.56,165.20 L536.66,165.21 L536.76,165.21 L536.87,165.22 L536.97,165.22 L537.07,165.22 L537.17,165.23 L537.28,165.23 L537.38,165.23 L537.48,165.24 L537.58,165.24 L537.69,165.24 L537.79,165.25 L537.89,165.25 L537.99,165.26 L538.10,165.26 L538.20,165.26" fill="none" stroke="#1414f0" stroke-width="2.0" stroke-linejoin="round"/>
<rect x="394.6" y="34.5" width="143.60" height="133.70" fill="none" stroke="#707070" stroke-width="1"/>
<line x1="394.60" y1="168.2" x2="394.60" y2="166.0" stroke="#707070" stroke-width="0.9"/>
<text x="394.60" y="177.90" font-size="8.0" font-weight="bold" font-style="normal" fill="#555" text-anchor="middle" >10. 0</text>
<line x1="406.57" y1="168.2" x2="406.57" y2="166.89999999999998" stroke="#707070" stroke-width="0.9"/>
<line x1="418.53" y1="168.2" x2="418.53" y2="166.0" stroke="#707070" stroke-width="0.9"/>
<text x="418.53" y="177.90" font-size="8.0" font-weight="bold" font-style="normal" fill="#555" text-anchor="middle" >10. 5</text>
<line x1="430.50" y1="168.2" x2="430.50" y2="166.89999999999998" stroke="#707070" stroke-width="0.9"/>
<line x1="442.47" y1="168.2" x2="442.47" y2="166.0" stroke="#707070" stroke-width="0.9"/>
<text x="442.47" y="177.90" font-size="8.0" font-weight="bold" font-style="normal" fill="#555" text-anchor="middle" >11. 0</text>
<line x1="454.43" y1="168.2" x2="454.43" y2="166.89999999999998" stroke="#707070" stroke-width="0.9"/>
<line x1="466.40" y1="168.2" x2="466.40" y2="166.0" stroke="#707070" stroke-width="0.9"/>
<text x="466.40" y="177.90" font-size="8.0" font-weight="bold" font-style="normal" fill="#555" text-anchor="middle" >11. 5</text>
<line x1="478.37" y1="168.2" x2="478.37" y2="166.89999999999998" stroke="#707070" stroke-width="0.9"/>
<line x1="490.33" y1="168.2" x2="490.33" y2="166.0" stroke="#707070" stroke-width="0.9"/>
<text x="490.33" y="177.90" font-size="8.0" font-weight="bold" font-style="normal" fill="#555" text-anchor="middle" >12. 0</text>
<line x1="502.30" y1="168.2" x2="502.30" y2="166.89999999999998" stroke="#707070" stroke-width="0.9"/>
<line x1="514.27" y1="168.2" x2="514.27" y2="166.0" stroke="#707070" stroke-width="0.9"/>
<text x="514.27" y="177.90" font-size="8.0" font-weight="bold" font-style="normal" fill="#555" text-anchor="middle" >12. 5</text>
<line x1="526.23" y1="168.2" x2="526.23" y2="166.89999999999998" stroke="#707070" stroke-width="0.9"/>
<line x1="538.20" y1="168.2" x2="538.20" y2="166.0" stroke="#707070" stroke-width="0.9"/>
<text x="538.20" y="177.90" font-size="8.0" font-weight="bold" font-style="normal" fill="#555" text-anchor="middle" >13. 0</text>
<line x1="394.6" y1="168.20" x2="396.8" y2="168.20" stroke="#707070" stroke-width="0.9"/>
<text x="391.80" y="172.10" font-size="8.8" font-weight="bold" font-style="normal" fill="#444" text-anchor="end" >0. 0</text>
<line x1="394.6" y1="154.83" x2="395.90000000000003" y2="154.83" stroke="#707070" stroke-width="0.9"/>
<line x1="394.6" y1="141.46" x2="396.8" y2="141.46" stroke="#707070" stroke-width="0.9"/>
<text x="391.80" y="145.36" font-size="8.8" font-weight="bold" font-style="normal" fill="#444" text-anchor="end" >0. 2</text>
<line x1="394.6" y1="128.09" x2="395.90000000000003" y2="128.09" stroke="#707070" stroke-width="0.9"/>
<line x1="394.6" y1="114.72" x2="396.8" y2="114.72" stroke="#707070" stroke-width="0.9"/>
<text x="391.80" y="118.62" font-size="8.8" font-weight="bold" font-style="normal" fill="#444" text-anchor="end" >0. 4</text>
<line x1="394.6" y1="101.35" x2="395.90000000000003" y2="101.35" stroke="#707070" stroke-width="0.9"/>
<line x1="394.6" y1="87.98" x2="396.8" y2="87.98" stroke="#707070" stroke-width="0.9"/>
<text x="391.80" y="91.88" font-size="8.8" font-weight="bold" font-style="normal" fill="#444" text-anchor="end" >0. 6</text>
<line x1="394.6" y1="74.61" x2="395.90000000000003" y2="74.61" stroke="#707070" stroke-width="0.9"/>
<line x1="394.6" y1="61.24" x2="396.8" y2="61.24" stroke="#707070" stroke-width="0.9"/>
<text x="391.80" y="65.14" font-size="8.8" font-weight="bold" font-style="normal" fill="#444" text-anchor="end" >0. 8</text>
<line x1="394.6" y1="47.87" x2="395.90000000000003" y2="47.87" stroke="#707070" stroke-width="0.9"/>
<line x1="394.6" y1="34.50" x2="396.8" y2="34.50" stroke="#707070" stroke-width="0.9"/>
<text x="391.80" y="38.40" font-size="8.8" font-weight="bold" font-style="normal" fill="#444" text-anchor="end" >1. 0</text>
<text x="466.00" y="190.20" font-size="11" font-weight="bold" font-style="normal" fill="#000" text-anchor="middle" >λ (μm)</text>
<text x="0.00" y="0.00" font-size="10.5" font-weight="bold" font-style="normal" fill="#000" text-anchor="middle" transform="translate(370.6,104) rotate(-90)">Absorption</text>
<defs><linearGradient id="dfield" x1="0" y1="0" x2="0" y2="1">
<stop offset="0.0000" stop-color="#40f0a8"/>
<stop offset="0.0441" stop-color="#40f0a0"/>
<stop offset="0.0583" stop-color="#60f070"/>
<stop offset="0.0654" stop-color="#a8f020"/>
<stop offset="0.0711" stop-color="#f0f000"/>
<stop offset="0.0789" stop-color="#f8a000"/>
<stop offset="0.0846" stop-color="#f03800"/>
<stop offset="0.0903" stop-color="#e01010"/>
<stop offset="0.1059" stop-color="#e01010"/>
<stop offset="0.1130" stop-color="#f03800"/>
<stop offset="0.1194" stop-color="#f8a000"/>
<stop offset="0.1265" stop-color="#f0f000"/>
<stop offset="0.1343" stop-color="#a0f000"/>
<stop offset="0.1421" stop-color="#40e040"/>
<stop offset="0.1521" stop-color="#30f0e0"/>
<stop offset="0.1592" stop-color="#2080f0"/>
<stop offset="0.1649" stop-color="#1030e8"/>
<stop offset="0.1734" stop-color="#1030e8"/>
<stop offset="0.1805" stop-color="#2080f0"/>
<stop offset="0.1876" stop-color="#30f0e0"/>
<stop offset="0.1976" stop-color="#40e060"/>
<stop offset="0.2118" stop-color="#80e820"/>
<stop offset="0.2338" stop-color="#98ec10"/>
<stop offset="0.2573" stop-color="#80e820"/>
<stop offset="0.2701" stop-color="#40e050"/>
<stop offset="0.2843" stop-color="#38ecb0"/>
<stop offset="0.2957" stop-color="#30f0e8"/>
<stop offset="0.3035" stop-color="#2090f0"/>
<stop offset="0.3085" stop-color="#1030e8"/>
<stop offset="0.3227" stop-color="#1030e8"/>
<stop offset="0.3312" stop-color="#2090f0"/>
<stop offset="0.3397" stop-color="#30f0e0"/>
<stop offset="0.3532" stop-color="#40e060"/>
<stop offset="0.3618" stop-color="#48e826"/>
<stop offset="0.4471" stop-color="#48e826"/>
<stop offset="0.4577" stop-color="#30f0b0"/>
<stop offset="0.4662" stop-color="#30f0f0"/>
<stop offset="0.4733" stop-color="#2080f0"/>
<stop offset="0.4790" stop-color="#1030e8"/>
<stop offset="0.4883" stop-color="#1030e8"/>
<stop offset="0.4947" stop-color="#2080f0"/>
<stop offset="0.5004" stop-color="#30f0e0"/>
<stop offset="0.5089" stop-color="#50e040"/>
<stop offset="0.5252" stop-color="#60e010"/>
<stop offset="0.5501" stop-color="#60e010"/>
<stop offset="0.5608" stop-color="#50e030"/>
<stop offset="0.5714" stop-color="#30f0c0"/>
<stop offset="0.5800" stop-color="#30e0f0"/>
<stop offset="0.5885" stop-color="#2080f0"/>
<stop offset="0.5970" stop-color="#1030e8"/>
<stop offset="0.6169" stop-color="#1030e8"/>
<stop offset="0.6254" stop-color="#2080f0"/>
<stop offset="0.6340" stop-color="#30f0e0"/>
<stop offset="0.6439" stop-color="#38e880"/>
<stop offset="0.6567" stop-color="#38e060"/>
<stop offset="0.6780" stop-color="#38e060"/>
<stop offset="0.6887" stop-color="#30f0c0"/>
<stop offset="0.7029" stop-color="#30e0f0"/>
<stop offset="0.7136" stop-color="#30b0f8"/>
<stop offset="0.7242" stop-color="#2060f0"/>
<stop offset="0.7306" stop-color="#1840f0"/>
<stop offset="0.7448" stop-color="#1840f0"/>
<stop offset="0.7591" stop-color="#2080f8"/>
<stop offset="0.7733" stop-color="#30c0f8"/>
<stop offset="0.7875" stop-color="#30f0e8"/>
<stop offset="0.8344" stop-color="#30f0e8"/>
<stop offset="0.8486" stop-color="#30d0f8"/>
<stop offset="0.8628" stop-color="#2890f8"/>
<stop offset="0.8735" stop-color="#2060f0"/>
<stop offset="0.8842" stop-color="#1030f0"/>
<stop offset="0.9410" stop-color="#0820e8"/>
<stop offset="1.0000" stop-color="#0010e0"/>
</linearGradient>
<linearGradient id="cbar" x1="0" y1="1" x2="0" y2="0">
<stop offset="0.0" stop-color="#1020e8"/>
<stop offset="0.06" stop-color="#1040f0"/>
<stop offset="0.124" stop-color="#2070f0"/>
<stop offset="0.185" stop-color="#20b0f8"/>
<stop offset="0.248" stop-color="#30f0f0"/>
<stop offset="0.363" stop-color="#30e8b0"/>
<stop offset="0.439" stop-color="#30e860"/>
<stop offset="0.515" stop-color="#40e810"/>
<stop offset="0.546" stop-color="#50e800"/>
<stop offset="0.605" stop-color="#80e800"/>
<stop offset="0.677" stop-color="#c0f000"/>
<stop offset="0.736" stop-color="#f0f000"/>
<stop offset="0.783" stop-color="#f0c000"/>
<stop offset="0.855" stop-color="#f08010"/>
<stop offset="0.927" stop-color="#e04010"/>
<stop offset="1.0" stop-color="#d01818"/>
</linearGradient>
<linearGradient id="cbar2" x1="0" y1="1" x2="0" y2="0">
<stop offset="0.0" stop-color="#0010e8"/>
<stop offset="0.069" stop-color="#1030f0"/>
<stop offset="0.134" stop-color="#1060f0"/>
<stop offset="0.197" stop-color="#1090f8"/>
<stop offset="0.26" stop-color="#10d0f8"/>
<stop offset="0.31" stop-color="#10f0f0"/>
<stop offset="0.373" stop-color="#10f0b0"/>
<stop offset="0.437" stop-color="#10f060"/>
<stop offset="0.513" stop-color="#20f010"/>
<stop offset="0.567" stop-color="#40f000"/>
<stop offset="0.627" stop-color="#80f000"/>
<stop offset="0.686" stop-color="#c0f000"/>
<stop offset="0.746" stop-color="#f8f000"/>
<stop offset="0.805" stop-color="#f8b000"/>
<stop offset="0.877" stop-color="#f07010"/>
<stop offset="0.948" stop-color="#f03010"/>
<stop offset="1.0" stop-color="#f01010"/>
</linearGradient>
<filter id="bl" x="-50%" y="-5%" width="200%" height="110%"><feGaussianBlur stdDeviation="0.55"/></filter>
<filter id="bl2" x="-50%" y="-5%" width="200%" height="110%"><feGaussianBlur stdDeviation="1.5"/></filter>
<clipPath id="eclip"><rect x="303.7" y="226.4" width="147.2" height="160.7"/></clipPath>
</defs>
<text x="74.30" y="230.80" font-size="16.5" font-weight="normal" font-style="normal" fill="#000" text-anchor="start" >(d)</text>
<rect x="121.7" y="232.6" width="77.50" height="140.70" fill="url(#dfield)"/>
<line x1="122.0" y1="240.2" x2="199.2" y2="240.2" stroke="#1428e8" stroke-width="2.2" stroke-dasharray="8.6 9.6"/>
<line x1="122.2" y1="299.7" x2="199.2" y2="299.7" stroke="#e8c040" stroke-width="1.6" stroke-dasharray="6.2 6.42"/>
<line x1="122.2" y1="358.3" x2="199.2" y2="358.3" stroke="#f0e000" stroke-width="1.6" stroke-dasharray="6.2 6.42"/>
<rect x="121.7" y="232.6" width="77.50" height="140.70" fill="none" stroke="#222" stroke-width="1"/>
<text x="163.80" y="272.80" font-size="12.2" font-weight="normal" font-style="normal" fill="#000" text-anchor="middle" textLength="56" lengthAdjust="spacingAndGlyphs" stroke="#000" stroke-width="0.3">λ=12.359μm</text>
<line x1="117.10" y1="251.10" x2="121.7" y2="251.10" stroke="#111" stroke-width="1.2"/>
<line x1="119.10" y1="276.55" x2="121.7" y2="276.55" stroke="#111" stroke-width="1.2"/>
<line x1="117.10" y1="302.00" x2="121.7" y2="302.00" stroke="#111" stroke-width="1.2"/>
<line x1="119.10" y1="327.45" x2="121.7" y2="327.45" stroke="#111" stroke-width="1.2"/>
<line x1="117.10" y1="352.90" x2="121.7" y2="352.90" stroke="#111" stroke-width="1.2"/>
<text x="112.40" y="254.90" font-size="11" font-weight="normal" font-style="normal" fill="#222" text-anchor="end" >5</text>
<text x="112.40" y="305.80" font-size="11" font-weight="normal" font-style="normal" fill="#222" text-anchor="end" >0</text>
<text x="112.40" y="356.70" font-size="11" font-weight="normal" font-style="normal" fill="#222" text-anchor="end" >−5</text>
<line x1="121.70" y1="373.3" x2="121.70" y2="377.5" stroke="#111" stroke-width="1.2"/>
<line x1="141.07" y1="373.3" x2="141.07" y2="375.90000000000003" stroke="#111" stroke-width="1.2"/>
<line x1="160.45" y1="373.3" x2="160.45" y2="377.5" stroke="#111" stroke-width="1.2"/>
<line x1="179.82" y1="373.3" x2="179.82" y2="375.90000000000003" stroke="#111" stroke-width="1.2"/>
<line x1="199.20" y1="373.3" x2="199.20" y2="377.5" stroke="#111" stroke-width="1.2"/>
<text x="122.00" y="392.50" font-size="11" font-weight="normal" font-style="normal" fill="#222" text-anchor="middle" >−0. 2</text>
<text x="160.60" y="392.50" font-size="11" font-weight="normal" font-style="normal" fill="#222" text-anchor="middle" >0. 0</text>
<text x="199.20" y="392.50" font-size="11" font-weight="normal" font-style="normal" fill="#222" text-anchor="middle" >0. 2</text>
<text x="161.30" y="407.60" font-size="11.8" font-weight="normal" font-style="normal" fill="#111" text-anchor="middle" ><tspan font-weight="bold" font-style="italic">x</tspan> (μm)</text>
<text x="0.00" y="0.00" font-size="11.8" font-weight="normal" font-style="normal" fill="#111" text-anchor="middle" transform="translate(98.9,306) rotate(-90)"><tspan font-weight="bold" font-style="italic">z</tspan> (μm)</text>
<rect x="204.9" y="233.3" width="8.9" height="138.4" fill="url(#cbar)" stroke="#333" stroke-width="0.8"/>
<text x="215.00" y="237.40" font-size="10" font-weight="normal" font-style="normal" fill="#444" text-anchor="start" >2</text>
<text x="215.00" y="374.30" font-size="10" font-weight="normal" font-style="normal" fill="#444" text-anchor="start" >0</text>
<text x="255.60" y="231.00" font-size="16.5" font-weight="normal" font-style="normal" fill="#000" text-anchor="start" >(e)</text>
<rect x="303.7" y="226.4" width="147.20" height="160.70" fill="#0818c6"/>
<g clip-path="url(#eclip)">
<g filter="url(#bl)"><path d="M362.5,226.0 L362.3,228.6 L362.2,231.1 L362.0,233.7 L361.8,236.2 L361.7,238.8 L361.5,241.4 L361.3,243.9 L361.2,246.5 L361.0,249.1 L360.8,251.6 L360.6,254.2 L360.4,256.8 L360.2,259.3 L360.0,261.9 L359.7,264.4 L359.5,267.0 L359.2,269.6 L358.9,272.1 L358.6,274.7 L358.2,277.2 L357.9,279.8 L357.5,282.4 L357.1,284.9 L356.7,287.5 L356.2,290.1 L355.7,292.6 L355.2,295.2 L354.7,297.8 L354.1,300.3 L353.5,302.9 L352.9,305.4 L352.2,308.0 L351.5,310.6 L350.8,313.1 L350.0,315.7 L349.2,318.2 L348.3,320.8 L347.5,323.4 L346.6,325.9 L345.6,328.5 L344.6,331.1 L343.6,333.6 L342.5,336.2 L341.4,338.8 L340.3,341.3 L339.1,343.9 L337.9,346.4 L336.6,349.0 L335.3,351.6 L334.0,354.1 L332.6,356.7 L331.2,359.2 L329.8,361.8 L328.3,364.4 L326.8,366.9 L325.3,369.5 L323.7,372.1 L322.1,374.6 L320.5,377.2 L318.8,379.8 L317.1,382.3 L315.4,384.9 L313.7,387.4 L311.9,390.0 L316.9,390.0 L318.7,387.4 L320.5,384.9 L322.2,382.3 L324.0,379.8 L325.6,377.2 L327.3,374.6 L328.9,372.1 L330.5,369.5 L332.0,366.9 L333.5,364.4 L334.9,361.8 L336.3,359.2 L337.7,356.7 L339.0,354.1 L340.3,351.6 L341.5,349.0 L342.7,346.4 L343.9,343.9 L345.0,341.3 L346.2,338.8 L347.2,336.2 L348.2,333.6 L349.2,331.1 L350.2,328.5 L351.1,325.9 L352.0,323.4 L352.8,320.8 L353.6,318.2 L354.4,315.7 L355.1,313.1 L355.8,310.6 L356.5,308.0 L357.1,305.4 L357.7,302.9 L358.3,300.3 L358.8,297.8 L359.3,295.2 L359.8,292.6 L360.2,290.1 L360.7,287.5 L361.0,284.9 L361.4,282.4 L361.7,279.8 L362.1,277.2 L362.3,274.7 L362.6,272.1 L362.8,269.6 L363.1,267.0 L363.3,264.4 L363.4,261.9 L363.6,259.3 L363.8,256.8 L363.9,254.2 L364.1,251.6 L364.2,249.1 L364.3,246.5 L364.5,243.9 L364.6,241.4 L364.7,238.8 L364.8,236.2 L364.9,233.7 L365.0,231.1 L365.2,228.6 L365.3,226.0Z" fill="#2a6cf0"/><path d="M362.9,226.0 L362.7,228.6 L362.6,231.1 L362.4,233.7 L362.2,236.2 L362.1,238.8 L361.9,241.4 L361.7,243.9 L361.6,246.5 L361.4,249.1 L361.2,251.6 L361.0,254.2 L360.8,256.8 L360.6,259.3 L360.4,261.9 L360.2,264.4 L359.9,267.0 L359.6,269.6 L359.3,272.1 L359.0,274.7 L358.7,277.2 L358.3,279.8 L357.9,282.4 L357.5,284.9 L357.1,287.5 L356.7,290.1 L356.2,292.6 L355.7,295.2 L355.1,297.8 L354.6,300.3 L354.0,302.9 L353.3,305.4 L352.7,308.0 L351.9,310.6 L351.2,313.1 L350.4,315.7 L349.6,318.2 L348.8,320.8 L347.9,323.4 L347.0,325.9 L346.1,328.5 L345.1,331.1 L344.1,333.6 L343.0,336.2 L341.9,338.8 L340.8,341.3 L339.6,343.9 L338.4,346.4 L337.1,349.0 L335.8,351.6 L334.5,354.1 L333.1,356.7 L331.7,359.2 L330.3,361.8 L328.8,364.4 L327.3,366.9 L325.8,369.5 L324.2,372.1 L322.6,374.6 L321.0,377.2 L319.3,379.8 L317.6,382.3 L315.9,384.9 L314.2,387.4 L312.4,390.0 L316.4,390.0 L318.2,387.4 L320.0,384.9 L321.7,382.3 L323.5,379.8 L325.1,377.2 L326.8,374.6 L328.4,372.1 L330.0,369.5 L331.5,366.9 L333.0,364.4 L334.4,361.8 L335.8,359.2 L337.2,356.7 L338.5,354.1 L339.8,351.6 L341.0,349.0 L342.2,346.4 L343.4,343.9 L344.5,341.3 L345.7,338.8 L346.7,336.2 L347.7,333.6 L348.7,331.1 L349.7,328.5 L350.6,325.9 L351.5,323.4 L352.3,320.8 L353.2,318.2 L353.9,315.7 L354.7,313.1 L355.4,310.6 L356.0,308.0 L356.7,305.4 L357.3,302.9 L357.8,300.3 L358.4,297.8 L358.9,295.2 L359.3,292.6 L359.8,290.1 L360.2,287.5 L360.6,284.9 L361.0,282.4 L361.3,279.8 L361.6,277.2 L361.9,274.7 L362.2,272.1 L362.4,269.6 L362.6,267.0 L362.8,264.4 L363.0,261.9 L363.2,259.3 L363.4,256.8 L363.5,254.2 L363.7,251.6 L363.8,249.1 L363.9,246.5 L364.1,243.9 L364.2,241.4 L364.3,238.8 L364.4,236.2 L364.5,233.7 L364.6,231.1 L364.8,228.6 L364.9,226.0Z" fill="#28e0f4"/><path d="M363.6,226.0 L363.4,228.6 L363.2,231.1 L363.0,233.7 L362.8,236.2 L362.7,238.8 L362.5,241.4 L362.3,243.9 L362.1,246.5 L362.0,249.1 L361.8,251.6 L361.6,254.2 L361.4,256.8 L361.1,259.3 L360.9,261.9 L360.6,264.4 L360.4,267.0 L360.1,269.6 L359.8,272.1 L359.5,274.7 L359.1,277.2 L358.8,279.8 L358.4,282.4 L358.0,284.9 L357.6,287.5 L357.1,290.1 L356.6,292.6 L356.1,295.2 L355.6,297.8 L355.0,300.3 L354.4,302.9 L353.8,305.4 L353.1,308.0 L352.4,310.6 L351.7,313.1 L350.9,315.7 L350.1,318.2 L349.3,320.8 L348.4,323.4 L347.5,325.9 L346.6,328.5 L345.6,331.1 L344.6,333.6 L343.5,336.2 L342.4,338.8 L341.3,341.3 L340.1,343.9 L338.9,346.4 L337.7,349.0 L336.4,351.6 L335.1,354.1 L333.7,356.7 L332.3,359.2 L330.9,361.8 L329.4,364.4 L327.9,366.9 L326.4,369.5 L324.8,372.1 L323.2,374.6 L321.6,377.2 L319.9,379.8 L318.2,382.3 L316.5,384.9 L314.7,387.4 L312.9,390.0 L315.8,390.0 L317.6,387.4 L319.4,384.9 L321.2,382.3 L322.9,379.8 L324.6,377.2 L326.2,374.6 L327.8,372.1 L329.4,369.5 L330.9,366.9 L332.4,364.4 L333.8,361.8 L335.2,359.2 L336.6,356.7 L338.0,354.1 L339.2,351.6 L340.5,349.0 L341.7,346.4 L342.9,343.9 L344.0,341.3 L345.2,338.8 L346.2,336.2 L347.2,333.6 L348.2,331.1 L349.2,328.5 L350.1,325.9 L351.0,323.4 L351.8,320.8 L352.7,318.2 L353.4,315.7 L354.2,313.1 L354.9,310.6 L355.6,308.0 L356.2,305.4 L356.8,302.9 L357.4,300.3 L357.9,297.8 L358.4,295.2 L358.9,292.6 L359.3,290.1 L359.8,287.5 L360.1,284.9 L360.5,282.4 L360.8,279.8 L361.2,277.2 L361.4,274.7 L361.7,272.1 L361.9,269.6 L362.2,267.0 L362.4,264.4 L362.5,261.9 L362.7,259.3 L362.9,256.8 L363.0,254.2 L363.1,251.6 L363.3,249.1 L363.4,246.5 L363.5,243.9 L363.6,241.4 L363.7,238.8 L363.8,236.2 L363.9,233.7 L364.0,231.1 L364.1,228.6 L364.3,226.0Z" fill="#3ce040"/><path d="M363.4,233.7 L363.2,236.2 L363.1,238.8 L362.9,241.4 L362.7,243.9 L362.6,246.5 L362.4,249.1 L362.2,251.6 L362.0,254.2 L361.8,256.8 L361.6,259.3 L361.4,261.9 L361.1,264.4 L360.8,267.0 L360.5,269.6 L360.2,272.1 L359.9,274.7 L359.5,277.2 L359.2,279.8 L358.8,282.4 L358.4,284.9 L358.0,287.5 L357.5,290.1 L357.0,292.6 L356.5,295.2 L356.0,297.8 L355.4,300.3 L354.8,302.9 L354.2,305.4 L353.5,308.0 L352.8,310.6 L352.1,313.1 L351.3,315.7 L350.5,318.2 L349.7,320.8 L348.8,323.4 L347.9,325.9 L347.0,328.5 L346.0,331.1 L345.0,333.6 L343.9,336.2 L342.9,338.8 L341.7,341.3 L340.6,343.9 L339.4,346.4 L338.1,349.0 L336.8,351.6 L335.5,354.1 L334.2,356.7 L332.8,359.2 L331.4,361.8 L329.9,364.4 L328.4,366.9 L326.9,369.5 L325.3,372.1 L323.7,374.6 L322.1,377.2 L320.4,379.8 L318.7,382.3 L317.0,384.9 L315.2,387.4 L313.4,390.0 L315.4,390.0 L317.2,387.4 L319.0,384.9 L320.7,382.3 L322.4,379.8 L324.1,377.2 L325.7,374.6 L327.3,372.1 L328.9,369.5 L330.4,366.9 L331.9,364.4 L333.4,361.8 L334.8,359.2 L336.2,356.7 L337.5,354.1 L338.8,351.6 L340.1,349.0 L341.3,346.4 L342.5,343.9 L343.6,341.3 L344.7,338.8 L345.8,336.2 L346.8,333.6 L347.8,331.1 L348.8,328.5 L349.7,325.9 L350.6,323.4 L351.4,320.8 L352.3,318.2 L353.0,315.7 L353.8,313.1 L354.5,310.6 L355.2,308.0 L355.8,305.4 L356.4,302.9 L357.0,300.3 L357.5,297.8 L358.0,295.2 L358.5,292.6 L358.9,290.1 L359.4,287.5 L359.7,284.9 L360.1,282.4 L360.4,279.8 L360.8,277.2 L361.0,274.7 L361.3,272.1 L361.5,269.6 L361.7,267.0 L361.9,264.4 L362.1,261.9 L362.2,259.3 L362.4,256.8 L362.5,254.2 L362.7,251.6 L362.8,249.1 L362.9,246.5 L363.1,243.9 L363.2,241.4 L363.3,238.8 L363.4,236.2 L363.5,233.7Z" fill="#f0e800"/><path d="M361.4,264.4 L361.2,267.0 L360.9,269.6 L360.6,272.1 L360.2,274.7 L359.9,277.2 L359.5,279.8 L359.1,282.4 L358.7,284.9 L358.3,287.5 L357.8,290.1 L357.3,292.6 L356.8,295.2 L356.3,297.8 L355.7,300.3 L355.1,302.9 L354.5,305.4 L353.8,308.0 L353.1,310.6 L352.4,313.1 L351.6,315.7 L350.8,318.2 L350.0,320.8 L349.1,323.4 L348.2,325.9 L347.3,328.5 L346.3,331.1 L345.3,333.6 L344.3,336.2 L343.2,338.8 L342.1,341.3 L340.9,343.9 L339.7,346.4 L338.5,349.0 L337.2,351.6 L335.9,354.1 L334.5,356.7 L333.1,359.2 L331.7,361.8 L330.2,364.4 L328.7,366.9 L327.2,369.5 L325.7,372.1 L324.1,374.6 L322.4,377.2 L320.7,379.8 L319.0,382.3 L317.3,384.9 L315.5,387.4 L313.7,390.0 L315.0,390.0 L316.8,387.4 L318.6,384.9 L320.3,382.3 L322.0,379.8 L323.7,377.2 L325.4,374.6 L327.0,372.1 L328.5,369.5 L330.0,366.9 L331.5,364.4 L333.0,361.8 L334.4,359.2 L335.8,356.7 L337.2,354.1 L338.4,351.6 L339.7,349.0 L340.9,346.4 L342.1,343.9 L343.3,341.3 L344.4,338.8 L345.5,336.2 L346.5,333.6 L347.5,331.1 L348.5,328.5 L349.4,325.9 L350.3,323.4 L351.1,320.8 L352.0,318.2 L352.7,315.7 L353.5,313.1 L354.2,310.6 L354.9,308.0 L355.5,305.4 L356.1,302.9 L356.7,300.3 L357.2,297.8 L357.7,295.2 L358.2,292.6 L358.6,290.1 L359.1,287.5 L359.4,284.9 L359.8,282.4 L360.1,279.8 L360.4,277.2 L360.7,274.7 L360.9,272.1 L361.2,269.6 L361.4,267.0 L361.6,264.4Z" fill="#fa7000"/><path d="M359.4,282.4 L359.0,284.9 L358.6,287.5 L358.1,290.1 L357.6,292.6 L357.1,295.2 L356.5,297.8 L356.0,300.3 L355.4,302.9 L354.7,305.4 L354.1,308.0 L353.4,310.6 L352.7,313.1 L351.9,315.7 L351.1,318.2 L350.3,320.8 L349.4,323.4 L348.5,325.9 L347.5,328.5 L346.6,331.1 L345.6,333.6 L344.5,336.2 L343.4,338.8 L342.3,341.3 L341.2,343.9 L340.0,346.4 L338.7,349.0 L337.5,351.6 L336.2,354.1 L334.8,356.7 L333.4,359.2 L332.0,361.8 L330.5,364.4 L329.0,366.9 L327.5,369.5 L326.0,372.1 L324.4,374.6 L322.7,377.2 L321.0,379.8 L319.3,382.3 L317.6,384.9 L315.8,387.4 L314.0,390.0 L314.7,390.0 L316.5,387.4 L318.3,384.9 L320.0,382.3 L321.7,379.8 L323.4,377.2 L325.1,374.6 L326.7,372.1 L328.2,369.5 L329.7,366.9 L331.2,364.4 L332.7,361.8 L334.1,359.2 L335.5,356.7 L336.9,354.1 L338.2,351.6 L339.4,349.0 L340.7,346.4 L341.9,343.9 L343.0,341.3 L344.1,338.8 L345.2,336.2 L346.3,333.6 L347.3,331.1 L348.2,328.5 L349.2,325.9 L350.0,323.4 L350.9,320.8 L351.7,318.2 L352.5,315.7 L353.2,313.1 L353.9,310.6 L354.6,308.0 L355.3,305.4 L355.9,302.9 L356.4,300.3 L356.9,297.8 L357.4,295.2 L357.9,292.6 L358.3,290.1 L358.8,287.5 L359.1,284.9 L359.5,282.4Z" fill="#e41000"/></g>
<g filter="url(#bl)"><path d="M400.2,226.0 L399.8,228.6 L399.4,231.1 L399.0,233.7 L398.5,236.2 L398.1,238.8 L397.6,241.4 L397.1,243.9 L396.6,246.5 L396.1,249.1 L395.6,251.6 L395.1,254.2 L394.6,256.8 L394.1,259.3 L393.6,261.9 L393.1,264.4 L392.5,267.0 L392.0,269.6 L391.5,272.1 L390.9,274.7 L390.3,277.2 L389.7,279.8 L389.0,282.4 L388.4,284.9 L387.7,287.5 L387.1,290.1 L386.4,292.6 L385.8,295.2 L385.1,297.8 L384.5,300.3 L383.8,302.9 L383.2,305.4 L382.6,308.0 L382.1,310.6 L381.5,313.1 L380.9,315.7 L380.4,318.2 L379.8,320.8 L379.3,323.4 L378.8,325.9 L378.3,328.5 L377.8,331.1 L377.3,333.6 L376.8,336.2 L376.4,338.8 L376.0,341.3 L375.5,343.9 L375.1,346.4 L374.8,349.0 L374.4,351.6 L374.0,354.1 L373.7,356.7 L373.4,359.2 L373.2,361.8 L372.9,364.4 L372.7,366.9 L372.5,369.5 L372.4,372.1 L372.2,374.6 L372.1,377.2 L372.0,379.8 L371.9,382.3 L371.9,384.9 L371.9,387.4 L371.9,390.0 L376.1,390.0 L376.2,387.4 L376.4,384.9 L376.6,382.3 L376.8,379.8 L377.0,377.2 L377.3,374.6 L377.6,372.1 L377.9,369.5 L378.3,366.9 L378.6,364.4 L379.0,361.8 L379.5,359.2 L379.9,356.7 L380.3,354.1 L380.8,351.6 L381.3,349.0 L381.8,346.4 L382.3,343.9 L382.9,341.3 L383.4,338.8 L384.0,336.2 L384.6,333.6 L385.2,331.1 L385.9,328.5 L386.6,325.9 L387.2,323.4 L387.9,320.8 L388.6,318.2 L389.4,315.7 L390.1,313.1 L390.8,310.6 L391.5,308.0 L392.3,305.4 L392.9,302.9 L393.6,300.3 L394.3,297.8 L394.9,295.2 L395.6,292.6 L396.3,290.1 L396.9,287.5 L397.6,284.9 L398.3,282.4 L398.9,279.8 L399.6,277.2 L400.3,274.7 L401.0,272.1 L401.8,269.6 L402.6,267.0 L403.3,264.4 L404.1,261.9 L404.8,259.3 L405.6,256.8 L406.3,254.2 L407.0,251.6 L407.7,249.1 L408.3,246.5 L409.0,243.9 L409.6,241.4 L410.1,238.8 L410.7,236.2 L411.3,233.7 L411.8,231.1 L412.3,228.6 L412.8,226.0Z" fill="#2a6cf0"/><path d="M401.4,226.0 L401.0,228.6 L400.6,231.1 L400.1,233.7 L399.7,236.2 L399.2,238.8 L398.7,241.4 L398.2,243.9 L397.7,246.5 L397.2,249.1 L396.7,251.6 L396.2,254.2 L395.6,256.8 L395.1,259.3 L394.6,261.9 L394.0,264.4 L393.4,267.0 L392.9,269.6 L392.3,272.1 L391.7,274.7 L391.1,277.2 L390.5,279.8 L389.8,282.4 L389.2,284.9 L388.5,287.5 L387.9,290.1 L387.2,292.6 L386.6,295.2 L385.9,297.8 L385.3,300.3 L384.6,302.9 L384.0,305.4 L383.4,308.0 L382.8,310.6 L382.3,313.1 L381.7,315.7 L381.1,318.2 L380.6,320.8 L380.0,323.4 L379.5,325.9 L379.0,328.5 L378.5,331.1 L378.0,333.6 L377.5,336.2 L377.1,338.8 L376.6,341.3 L376.2,343.9 L375.8,346.4 L375.4,349.0 L375.0,351.6 L374.7,354.1 L374.3,356.7 L374.0,359.2 L373.8,361.8 L373.5,364.4 L373.3,366.9 L373.1,369.5 L373.0,372.1 L372.8,374.6 L372.7,377.2 L372.6,379.8 L372.5,382.3 L372.4,384.9 L372.4,387.4 L372.4,390.0 L375.6,390.0 L375.7,387.4 L375.8,384.9 L376.0,382.3 L376.2,379.8 L376.4,377.2 L376.7,374.6 L377.0,372.1 L377.3,369.5 L377.7,366.9 L378.0,364.4 L378.4,361.8 L378.9,359.2 L379.3,356.7 L379.7,354.1 L380.2,351.6 L380.6,349.0 L381.1,346.4 L381.6,343.9 L382.2,341.3 L382.7,338.8 L383.3,336.2 L383.9,333.6 L384.5,331.1 L385.1,328.5 L385.8,325.9 L386.4,323.4 L387.1,320.8 L387.8,318.2 L388.5,315.7 L389.2,313.1 L389.9,310.6 L390.6,308.0 L391.3,305.4 L391.9,302.9 L392.6,300.3 L393.3,297.8 L393.9,295.2 L394.6,292.6 L395.3,290.1 L395.9,287.5 L396.6,284.9 L397.3,282.4 L397.9,279.8 L398.6,277.2 L399.3,274.7 L400.0,272.1 L400.7,269.6 L401.5,267.0 L402.2,264.4 L402.9,261.9 L403.7,259.3 L404.4,256.8 L405.1,254.2 L405.8,251.6 L406.4,249.1 L407.0,246.5 L407.6,243.9 L408.2,241.4 L408.7,238.8 L409.3,236.2 L409.8,233.7 L410.3,231.1 L410.8,228.6 L411.3,226.0Z" fill="#28e0f4"/><path d="M402.8,226.0 L402.4,228.6 L402.0,231.1 L401.5,233.7 L401.0,236.2 L400.6,238.8 L400.1,241.4 L399.6,243.9 L399.0,246.5 L398.5,249.1 L397.9,251.6 L397.4,254.2 L396.8,256.8 L396.3,259.3 L395.7,261.9 L395.1,264.4 L394.5,267.0 L393.9,269.6 L393.3,272.1 L392.7,274.7 L392.1,277.2 L391.5,279.8 L390.8,282.4 L390.2,284.9 L389.5,287.5 L388.9,290.1 L388.2,292.6 L387.6,295.2 L386.9,297.8 L386.3,300.3 L385.6,302.9 L385.0,305.4 L384.4,308.0 L383.8,310.6 L383.2,313.1 L382.6,315.7 L382.0,318.2 L381.5,320.8 L380.9,323.4 L380.4,325.9 L379.8,328.5 L379.3,331.1 L378.8,333.6 L378.3,336.2 L377.9,338.8 L377.4,341.3 L377.0,343.9 L376.5,346.4 L376.1,349.0 L375.8,351.6 L375.4,354.1 L375.1,356.7 L374.7,359.2 L374.4,361.8 L374.2,364.4 L374.0,366.9 L373.8,369.5 L373.6,372.1 L373.4,374.6 L373.3,377.2 L373.2,379.8 L373.1,382.3 L373.1,384.9 L373.1,387.4 L373.1,390.0 L374.9,390.0 L375.0,387.4 L375.2,384.9 L375.4,382.3 L375.6,379.8 L375.8,377.2 L376.1,374.6 L376.3,372.1 L376.7,369.5 L377.0,366.9 L377.4,364.4 L377.8,361.8 L378.2,359.2 L378.6,356.7 L379.0,354.1 L379.4,351.6 L379.9,349.0 L380.4,346.4 L380.9,343.9 L381.4,341.3 L381.9,338.8 L382.5,336.2 L383.1,333.6 L383.7,331.1 L384.3,328.5 L384.9,325.9 L385.5,323.4 L386.2,320.8 L386.8,318.2 L387.5,315.7 L388.1,313.1 L388.8,310.6 L389.5,308.0 L390.2,305.4 L390.8,302.9 L391.5,300.3 L392.2,297.8 L392.8,295.2 L393.5,292.6 L394.2,290.1 L394.8,287.5 L395.5,284.9 L396.2,282.4 L396.8,279.8 L397.5,277.2 L398.2,274.7 L398.9,272.1 L399.6,269.6 L400.3,267.0 L401.0,264.4 L401.6,261.9 L402.3,259.3 L403.0,256.8 L403.6,254.2 L404.3,251.6 L404.9,249.1 L405.5,246.5 L406.1,243.9 L406.6,241.4 L407.2,238.8 L407.7,236.2 L408.2,233.7 L408.7,231.1 L409.2,228.6 L409.6,226.0Z" fill="#3ce040"/><path d="M403.9,226.0 L403.5,228.6 L403.0,231.1 L402.6,233.7 L402.1,236.2 L401.6,238.8 L401.1,241.4 L400.6,243.9 L400.0,246.5 L399.5,249.1 L398.9,251.6 L398.4,254.2 L397.8,256.8 L397.2,259.3 L396.7,261.9 L396.1,264.4 L395.5,267.0 L394.9,269.6 L394.3,272.1 L393.6,274.7 L393.0,277.2 L392.3,279.8 L391.7,282.4 L391.0,284.9 L390.4,287.5 L389.7,290.1 L389.0,292.6 L388.4,295.2 L387.7,297.8 L387.1,300.3 L386.4,302.9 L385.8,305.4 L385.2,308.0 L384.6,310.6 L384.0,313.1 L383.4,315.7 L382.8,318.2 L382.2,320.8 L381.7,323.4 L381.1,325.9 L380.6,328.5 L380.0,331.1 L379.5,333.6 L379.0,336.2 L378.5,338.8 L378.1,341.3 L377.6,343.9 L377.2,346.4 L376.8,349.0 L376.4,351.6 L376.0,354.1 L375.7,356.7 L375.3,359.2 L375.0,361.8 L374.8,364.4 L374.6,366.9 L374.4,369.5 L374.2,372.1 L374.0,374.6 L373.9,377.2 L373.8,379.8 L373.8,382.3 L373.8,384.9 L373.8,387.4 L373.8,390.0 L374.2,390.0 L374.4,387.4 L374.5,384.9 L374.7,382.3 L374.9,379.8 L375.2,377.2 L375.5,374.6 L375.7,372.1 L376.1,369.5 L376.4,366.9 L376.8,364.4 L377.2,361.8 L377.5,359.2 L377.9,356.7 L378.4,354.1 L378.8,351.6 L379.3,349.0 L379.7,346.4 L380.2,343.9 L380.7,341.3 L381.3,338.8 L381.8,336.2 L382.4,333.6 L382.9,331.1 L383.5,328.5 L384.1,325.9 L384.7,323.4 L385.4,320.8 L386.0,318.2 L386.6,315.7 L387.3,313.1 L387.9,310.6 L388.6,308.0 L389.3,305.4 L389.9,302.9 L390.6,300.3 L391.2,297.8 L391.9,295.2 L392.5,292.6 L393.2,290.1 L393.9,287.5 L394.5,284.9 L395.2,282.4 L395.8,279.8 L396.5,277.2 L397.1,274.7 L397.8,272.1 L398.5,269.6 L399.2,267.0 L399.8,264.4 L400.5,261.9 L401.1,259.3 L401.8,256.8 L402.4,254.2 L403.0,251.6 L403.6,249.1 L404.2,246.5 L404.8,243.9 L405.3,241.4 L405.9,238.8 L406.4,236.2 L406.9,233.7 L407.4,231.1 L407.9,228.6 L408.3,226.0Z" fill="#f0e800"/><path d="M404.7,226.0 L404.3,228.6 L403.8,231.1 L403.4,233.7 L402.9,236.2 L402.4,238.8 L401.9,241.4 L401.4,243.9 L400.8,246.5 L400.3,249.1 L399.7,251.6 L399.2,254.2 L398.6,256.8 L398.0,259.3 L397.4,261.9 L396.8,264.4 L396.2,267.0 L395.5,269.6 L394.9,272.1 L394.3,274.7 L393.6,277.2 L393.0,279.8 L392.3,282.4 L391.7,284.9 L391.0,287.5 L390.4,290.1 L389.7,292.6 L389.1,295.2 L388.4,297.8 L387.8,300.3 L387.1,302.9 L386.5,305.4 L385.9,308.0 L385.2,310.6 L384.6,313.1 L384.0,315.7 L383.4,318.2 L382.8,320.8 L382.2,323.4 L381.7,325.9 L381.1,328.5 L380.6,331.1 L380.0,333.6 L379.5,336.2 L379.0,338.8 L378.6,341.3 L378.1,343.9 L377.7,346.4 L377.3,349.0 L376.9,351.6 L376.5,354.1 L376.2,356.7 L375.8,359.2 L375.5,361.8 L375.3,364.4 L375.1,366.9 L374.9,369.5 L374.7,372.1 L374.5,374.6 L374.4,377.2 L374.3,379.8 L374.2,382.3 L374.1,384.9 L374.2,384.9 L374.4,382.3 L374.5,379.8 L374.7,377.2 L375.0,374.6 L375.2,372.1 L375.6,369.5 L375.9,366.9 L376.3,364.4 L376.7,361.8 L377.0,359.2 L377.4,356.7 L377.9,354.1 L378.3,351.6 L378.8,349.0 L379.2,346.4 L379.7,343.9 L380.2,341.3 L380.8,338.8 L381.3,336.2 L381.9,333.6 L382.4,331.1 L383.0,328.5 L383.6,325.9 L384.2,323.4 L384.8,320.8 L385.4,318.2 L386.0,315.7 L386.6,313.1 L387.3,310.6 L387.9,308.0 L388.6,305.4 L389.2,302.9 L389.9,300.3 L390.5,297.8 L391.2,295.2 L391.8,292.6 L392.5,290.1 L393.2,287.5 L393.8,284.9 L394.5,282.4 L395.1,279.8 L395.8,277.2 L396.4,274.7 L397.1,272.1 L397.8,269.6 L398.4,267.0 L399.1,264.4 L399.7,261.9 L400.4,259.3 L401.0,256.8 L401.6,254.2 L402.2,251.6 L402.8,249.1 L403.4,246.5 L403.9,243.9 L404.5,241.4 L405.0,238.8 L405.5,236.2 L406.0,233.7 L406.5,231.1 L407.0,228.6 L407.4,226.0Z" fill="#fa7000"/><path d="M405.2,226.0 L404.8,228.6 L404.3,231.1 L403.9,233.7 L403.4,236.2 L402.9,238.8 L402.3,241.4 L401.8,243.9 L401.3,246.5 L400.7,249.1 L400.1,251.6 L399.6,254.2 L399.0,256.8 L398.4,259.3 L397.8,261.9 L397.2,264.4 L396.6,267.0 L395.9,269.6 L395.3,272.1 L394.7,274.7 L394.0,277.2 L393.4,279.8 L392.7,282.4 L392.1,284.9 L391.4,287.5 L390.8,290.1 L390.1,292.6 L389.5,295.2 L388.8,297.8 L388.2,300.3 L387.5,302.9 L386.9,305.4 L386.3,308.0 L385.6,310.6 L385.0,313.1 L384.4,315.7 L383.8,318.2 L383.2,320.8 L382.6,323.4 L382.1,325.9 L381.5,328.5 L381.0,331.1 L380.4,333.6 L379.9,336.2 L379.4,338.8 L379.0,341.3 L378.5,343.9 L378.1,346.4 L377.7,349.0 L377.3,351.6 L376.9,354.1 L376.6,356.7 L376.2,359.2 L375.9,361.8 L375.6,364.4 L375.4,366.9 L375.1,369.5 L375.3,369.5 L375.6,366.9 L375.9,364.4 L376.3,361.8 L376.6,359.2 L377.0,356.7 L377.5,354.1 L377.9,351.6 L378.4,349.0 L378.8,346.4 L379.3,343.9 L379.8,341.3 L380.4,338.8 L380.9,336.2 L381.4,333.6 L382.0,331.1 L382.6,328.5 L383.1,325.9 L383.7,323.4 L384.3,320.8 L384.9,318.2 L385.5,315.7 L386.2,313.1 L386.8,310.6 L387.4,308.0 L388.1,305.4 L388.7,302.9 L389.4,300.3 L390.0,297.8 L390.7,295.2 L391.4,292.6 L392.0,290.1 L392.7,287.5 L393.4,284.9 L394.0,282.4 L394.7,279.8 L395.3,277.2 L396.0,274.7 L396.7,272.1 L397.3,269.6 L398.0,267.0 L398.6,264.4 L399.2,261.9 L399.9,259.3 L400.5,256.8 L401.1,254.2 L401.7,251.6 L402.3,249.1 L402.9,246.5 L403.4,243.9 L403.9,241.4 L404.5,238.8 L405.0,236.2 L405.5,233.7 L405.9,231.1 L406.4,228.6 L406.8,226.0Z" fill="#e41000"/></g>
<path d="M429.7,226.4 V240" stroke="#2f78f4" stroke-width="1.2" opacity="0.8"/>
<g filter="url(#bl2)"><path d="M420,300 L419.5,330 L418.6,360 L417.8,390 L429,390 L430.2,360 L430.8,330 L428,300 Z" fill="#1638e4"/></g>
<g filter="url(#bl)"><path d="M426.5,242.0 L425.6,244.6 L424.8,247.1 L424.1,249.7 L423.4,252.2 L422.8,254.8 L422.1,257.3 L421.6,259.9 L421.0,262.4 L420.4,265.0 L419.9,267.5 L419.4,270.1 L418.9,272.6 L418.5,275.2 L418.1,277.7 L417.7,280.3 L417.4,282.8 L417.1,285.4 L416.9,287.9 L416.6,290.5 L416.4,293.0 L416.2,295.6 L416.0,298.1 L415.9,300.7 L415.7,303.2 L415.6,305.8 L415.5,308.3 L415.4,310.9 L415.4,313.4 L415.3,316.0 L415.3,318.6 L415.3,321.1 L415.3,323.7 L415.2,326.2 L415.2,328.8 L415.2,331.3 L415.1,333.9 L415.1,336.4 L415.1,339.0 L415.0,341.5 L415.0,344.1 L415.0,346.6 L414.9,349.2 L414.9,351.7 L414.9,354.3 L414.8,356.8 L414.8,359.4 L414.7,361.9 L414.7,364.5 L414.7,367.0 L414.6,369.6 L414.5,372.1 L414.5,374.7 L414.4,377.2 L414.3,379.8 L414.2,382.3 L414.1,384.9 L414.0,387.4 L413.9,390.0 L425.1,390.0 L425.2,387.4 L425.4,384.9 L425.5,382.3 L425.6,379.8 L425.7,377.2 L425.8,374.7 L425.9,372.1 L425.9,369.6 L426.0,367.0 L426.1,364.5 L426.1,361.9 L426.2,359.4 L426.2,356.8 L426.2,354.3 L426.2,351.7 L426.2,349.2 L426.2,346.6 L426.2,344.1 L426.3,341.5 L426.3,339.0 L426.3,336.4 L426.3,333.9 L426.3,331.3 L426.2,328.8 L426.1,326.2 L426.0,323.7 L425.8,321.1 L425.7,318.6 L425.6,316.0 L425.5,313.4 L425.3,310.9 L425.2,308.3 L425.2,305.8 L425.1,303.2 L425.1,300.7 L425.0,298.1 L425.0,295.6 L425.0,293.0 L425.0,290.5 L425.1,287.9 L425.1,285.4 L425.2,282.8 L425.2,280.3 L425.3,277.7 L425.4,275.2 L425.5,272.6 L425.6,270.1 L425.7,267.5 L425.8,265.0 L426.0,262.4 L426.2,259.9 L426.3,257.3 L426.5,254.8 L426.6,252.2 L426.7,249.7 L426.8,247.1 L426.9,244.6 L426.9,242.0Z" fill="#2a6cf0"/><path d="M426.0,244.6 L425.4,247.1 L424.7,249.7 L424.1,252.2 L423.4,254.8 L422.8,257.3 L422.3,259.9 L421.7,262.4 L421.2,265.0 L420.7,267.5 L420.2,270.1 L419.7,272.6 L419.3,275.2 L418.9,277.7 L418.5,280.3 L418.2,282.8 L417.9,285.4 L417.7,287.9 L417.4,290.5 L417.2,293.0 L417.0,295.6 L416.8,298.1 L416.6,300.7 L416.4,303.2 L416.2,305.8 L416.1,308.3 L416.0,310.9 L416.0,313.4 L415.9,316.0 L415.9,318.6 L415.8,321.1 L415.8,323.7 L415.7,326.2 L415.7,328.8 L415.7,331.3 L415.6,333.9 L415.6,336.4 L415.5,339.0 L415.5,341.5 L415.5,344.1 L415.4,346.6 L415.4,349.2 L415.3,351.7 L415.3,354.3 L415.2,356.8 L415.2,359.4 L415.1,361.9 L415.1,364.5 L415.1,367.0 L415.0,369.6 L414.9,372.1 L414.9,374.7 L414.8,377.2 L414.7,379.8 L414.6,382.3 L414.5,384.9 L414.4,387.4 L414.3,390.0 L422.6,390.0 L422.7,387.4 L422.9,384.9 L423.0,382.3 L423.1,379.8 L423.2,377.2 L423.3,374.7 L423.4,372.1 L423.5,369.6 L423.6,367.0 L423.7,364.5 L423.7,361.9 L423.8,359.4 L423.8,356.8 L423.9,354.3 L423.9,351.7 L424.0,349.2 L424.0,346.6 L424.1,344.1 L424.1,341.5 L424.1,339.0 L424.2,336.4 L424.2,333.9 L424.3,331.3 L424.3,328.8 L424.2,326.2 L424.2,323.7 L424.1,321.1 L424.1,318.6 L424.0,316.0 L424.0,313.4 L424.0,310.9 L424.0,308.3 L424.0,305.8 L424.0,303.2 L424.0,300.7 L424.1,298.1 L424.1,295.6 L424.2,293.0 L424.3,290.5 L424.3,287.9 L424.4,285.4 L424.5,282.8 L424.6,280.3 L424.7,277.7 L424.7,275.2 L424.8,272.6 L424.9,270.1 L425.0,267.5 L425.1,265.0 L425.3,262.4 L425.5,259.9 L425.6,257.3 L425.8,254.8 L425.9,252.2 L426.1,249.7 L426.2,247.1 L426.4,244.6Z" fill="#28e0f4"/><path d="M425.3,249.7 L424.8,252.2 L424.4,254.8 L423.9,257.3 L423.3,259.9 L422.8,262.4 L422.3,265.0 L421.8,267.5 L421.3,270.1 L420.8,272.6 L420.4,275.2 L419.9,277.7 L419.5,280.3 L419.2,282.8 L418.9,285.4 L418.6,287.9 L418.3,290.5 L418.1,293.0 L417.8,295.6 L417.6,298.1 L417.4,300.7 L417.2,303.2 L417.0,305.8 L416.9,308.3 L416.8,310.9 L416.7,313.4 L416.7,316.0 L416.6,318.6 L416.6,321.1 L416.5,323.7 L416.5,326.2 L416.4,328.8 L416.4,331.3 L416.3,333.9 L416.3,336.4 L416.2,339.0 L416.2,341.5 L416.1,344.1 L416.1,346.6 L416.0,349.2 L416.0,351.7 L415.9,354.3 L415.8,356.8 L415.8,359.4 L415.7,361.9 L415.7,364.5 L415.6,367.0 L415.6,369.6 L415.5,372.1 L415.4,374.7 L415.3,377.2 L415.3,379.8 L415.2,382.3 L415.0,384.9 L414.9,387.4 L414.8,390.0 L420.5,390.0 L420.7,387.4 L420.8,384.9 L421.0,382.3 L421.1,379.8 L421.2,377.2 L421.3,374.7 L421.4,372.1 L421.5,369.6 L421.6,367.0 L421.7,364.5 L421.8,361.9 L421.9,359.4 L421.9,356.8 L422.0,354.3 L422.1,351.7 L422.1,349.2 L422.2,346.6 L422.2,344.1 L422.3,341.5 L422.3,339.0 L422.4,336.4 L422.4,333.9 L422.5,331.3 L422.5,328.8 L422.5,326.2 L422.6,323.7 L422.6,321.1 L422.7,318.6 L422.7,316.0 L422.8,313.4 L422.8,310.9 L422.9,308.3 L423.0,305.8 L423.0,303.2 L423.1,300.7 L423.1,298.1 L423.2,295.6 L423.3,293.0 L423.3,290.5 L423.4,287.9 L423.5,285.4 L423.5,282.8 L423.6,280.3 L423.7,277.7 L423.7,275.2 L423.8,272.6 L423.9,270.1 L424.0,267.5 L424.1,265.0 L424.3,262.4 L424.5,259.9 L424.6,257.3 L424.9,254.8 L425.2,252.2 L425.5,249.7Z" fill="#3ce040"/><path d="M423.8,259.9 L423.4,262.4 L423.1,265.0 L422.7,267.5 L422.4,270.1 L421.9,272.6 L421.5,275.2 L421.0,277.7 L420.6,280.3 L420.3,282.8 L420.0,285.4 L419.7,287.9 L419.4,290.5 L419.1,293.0 L418.8,295.6 L418.6,298.1 L418.3,300.7 L418.1,303.2 L417.9,305.8 L417.7,308.3 L417.6,310.9 L417.5,313.4 L417.4,316.0 L417.3,318.6 L417.3,321.1 L417.2,323.7 L417.1,326.2 L417.0,328.8 L417.0,331.3 L416.9,333.9 L416.8,336.4 L416.8,339.0 L416.7,341.5 L416.7,344.1 L416.6,346.6 L416.5,349.2 L416.5,351.7 L416.4,354.3 L416.4,356.8 L416.3,359.4 L416.2,361.9 L416.2,364.5 L416.1,367.0 L416.0,369.6 L416.0,372.1 L415.9,374.7 L415.8,377.2 L415.7,379.8 L415.6,382.3 L415.5,384.9 L415.3,387.4 L415.2,390.0 L419.4,390.0 L419.6,387.4 L419.7,384.9 L419.9,382.3 L420.0,379.8 L420.1,377.2 L420.2,374.7 L420.3,372.1 L420.4,369.6 L420.5,367.0 L420.6,364.5 L420.7,361.9 L420.8,359.4 L420.9,356.8 L420.9,354.3 L421.0,351.7 L421.0,349.2 L421.1,346.6 L421.2,344.1 L421.2,341.5 L421.3,339.0 L421.3,336.4 L421.4,333.9 L421.5,331.3 L421.5,328.8 L421.6,326.2 L421.6,323.7 L421.7,321.1 L421.7,318.6 L421.8,316.0 L421.8,313.4 L421.9,310.9 L422.0,308.3 L422.1,305.8 L422.1,303.2 L422.1,300.7 L422.2,298.1 L422.2,295.6 L422.3,293.0 L422.3,290.5 L422.4,287.9 L422.5,285.4 L422.5,282.8 L422.6,280.3 L422.7,277.7 L422.8,275.2 L422.9,272.6 L423.0,270.1 L423.2,267.5 L423.5,265.0 L423.7,262.4 L424.0,259.9Z" fill="#f0e800"/><path d="M422.1,275.2 L421.8,277.7 L421.5,280.3 L421.2,282.8 L420.8,285.4 L420.5,287.9 L420.2,290.5 L419.9,293.0 L419.6,295.6 L419.3,298.1 L419.1,300.7 L418.8,303.2 L418.6,305.8 L418.4,308.3 L418.3,310.9 L418.2,313.4 L418.1,316.0 L417.9,318.6 L417.8,321.1 L417.7,323.7 L417.6,326.2 L417.5,328.8 L417.5,331.3 L417.4,333.9 L417.3,336.4 L417.3,339.0 L417.2,341.5 L417.1,344.1 L417.1,346.6 L417.0,349.2 L416.9,351.7 L416.8,354.3 L416.8,356.8 L416.7,359.4 L416.6,361.9 L416.5,364.5 L416.5,367.0 L416.4,369.6 L416.3,372.1 L416.2,374.7 L416.1,377.2 L416.0,379.8 L415.8,382.3 L415.7,384.9 L415.5,387.4 L415.4,390.0 L419.0,390.0 L419.1,387.4 L419.3,384.9 L419.4,382.3 L419.6,379.8 L419.7,377.2 L419.8,374.7 L419.9,372.1 L420.0,369.6 L420.1,367.0 L420.1,364.5 L420.2,361.9 L420.3,359.4 L420.3,356.8 L420.4,354.3 L420.5,351.7 L420.5,349.2 L420.6,346.6 L420.6,344.1 L420.7,341.5 L420.7,339.0 L420.8,336.4 L420.8,333.9 L420.9,331.3 L420.9,328.8 L420.9,326.2 L421.0,323.7 L421.0,321.1 L421.1,318.6 L421.1,316.0 L421.2,313.4 L421.2,310.9 L421.3,308.3 L421.4,305.8 L421.4,303.2 L421.4,300.7 L421.4,298.1 L421.4,295.6 L421.5,293.0 L421.5,290.5 L421.6,287.9 L421.7,285.4 L421.7,282.8 L421.9,280.3 L422.0,277.7 L422.2,275.2Z" fill="#fa7000"/><path d="M421.0,287.9 L420.8,290.5 L420.6,293.0 L420.3,295.6 L420.0,298.1 L419.8,300.7 L419.5,303.2 L419.3,305.8 L419.1,308.3 L418.9,310.9 L418.7,313.4 L418.6,316.0 L418.4,318.6 L418.3,321.1 L418.1,323.7 L418.0,326.2 L417.9,328.8 L417.8,331.3 L417.7,333.9 L417.6,336.4 L417.6,339.0 L417.5,341.5 L417.4,344.1 L417.4,346.6 L417.3,349.2 L417.2,351.7 L417.1,354.3 L417.1,356.8 L417.0,359.4 L416.9,361.9 L416.8,364.5 L416.7,367.0 L416.6,369.6 L416.5,372.1 L416.4,374.7 L416.3,377.2 L416.2,379.8 L416.1,382.3 L415.9,384.9 L415.8,387.4 L415.6,390.0 L418.6,390.0 L418.7,387.4 L418.9,384.9 L419.0,382.3 L419.2,379.8 L419.3,377.2 L419.4,374.7 L419.5,372.1 L419.6,369.6 L419.7,367.0 L419.7,364.5 L419.8,361.9 L419.9,359.4 L419.9,356.8 L420.0,354.3 L420.1,351.7 L420.1,349.2 L420.2,346.6 L420.2,344.1 L420.3,341.5 L420.3,339.0 L420.4,336.4 L420.4,333.9 L420.5,331.3 L420.5,328.8 L420.5,326.2 L420.5,323.7 L420.5,321.1 L420.5,318.6 L420.5,316.0 L420.6,313.4 L420.6,310.9 L420.6,308.3 L420.7,305.8 L420.7,303.2 L420.7,300.7 L420.7,298.1 L420.7,295.6 L420.8,293.0 L420.9,290.5 L421.1,287.9Z" fill="#e41000"/></g>
<path d="M402.37,226.00 L401.80,227.83 L401.23,229.66 L400.64,231.49 L400.05,233.33 L399.45,235.16 L398.85,236.99 L398.23,238.82 L397.60,240.65 L396.96,242.48 L396.32,244.31 L395.66,246.15 L394.99,247.98 L394.32,249.81 L393.63,251.64 L392.93,253.47 L392.22,255.30 L391.51,257.13 L390.78,258.97 L390.04,260.80 L389.29,262.63 L388.53,264.46 L387.75,266.29 L386.97,268.12 L386.18,269.96 L385.38,271.79 L384.57,273.62 L383.74,275.45 L382.91,277.28 L382.07,279.11 L381.22,280.94 L380.36,282.78 L379.48,284.61 L378.60,286.44 L377.71,288.27 L376.81,290.10 L375.91,291.93 L374.99,293.76 L374.06,295.60 L373.13,297.43 L372.19,299.26 L371.24,301.09 L370.28,302.92 L369.31,304.75 L368.34,306.58 L367.35,308.42 L366.37,310.25 L365.37,312.08 L364.37,313.91 L363.35,315.74 L362.34,317.57 L361.31,319.40 L360.28,321.24 L359.25,323.07 L358.20,324.90 L357.15,326.73 L356.10,328.56 L355.03,330.39 L353.97,332.22 L352.89,334.06 L351.81,335.89 L350.73,337.72 L349.63,339.55 L348.54,341.38 L347.43,343.21 L346.32,345.04 L345.21,346.88 L344.09,348.71 L342.96,350.54 L341.82,352.37 L340.68,354.20 L339.54,356.03 L338.38,357.87 L337.22,359.70 L336.06,361.53 L334.88,363.36 L333.70,365.19 L332.51,367.02 L331.31,368.85 L330.11,370.69 L328.89,372.52 L327.67,374.35 L326.44,376.18 L325.19,378.01 L323.94,379.84 L322.67,381.67 L321.40,383.51 L320.11,385.34 L318.81,387.17 L317.50,389.00" fill="none" stroke="#fff" stroke-width="1.5"/>
</g>
<line x1="368.0" y1="226.7" x2="368.0" y2="387" stroke="#e8ecff" stroke-width="1.6" stroke-dasharray="6.0 5.95"/>
<line x1="414.7" y1="226.4" x2="414.7" y2="387" stroke="#e8ecff" stroke-width="1.5" stroke-dasharray="4.3 2.3 0.9 2.0" stroke-dashoffset="3.3"/>
<rect x="303.7" y="226.4" width="147.20" height="160.70" fill="none" stroke="#222" stroke-width="0.9"/>
<line x1="310.2" y1="249.6" x2="329" y2="249.6" stroke="#fff" stroke-width="1.6"/>
<line x1="310.2" y1="261" x2="329" y2="261" stroke="#fff" stroke-width="1.6" stroke-dasharray="5.7 6.4"/>
<line x1="310.2" y1="272.1" x2="329" y2="272.1" stroke="#fff" stroke-width="1.6" stroke-dasharray="4.4 3.9 1.2 1.3 3.8 1.9 1.3 10"/>
<text x="334.00" y="252.90" font-size="9.3" font-weight="bold" font-style="normal" fill="#fff" text-anchor="start" >OTS</text>
<text x="331.60" y="264.40" font-size="9.3" font-weight="bold" font-style="normal" fill="#fff" text-anchor="start" >TPhP2</text>
<text x="331.60" y="275.30" font-size="9.3" font-weight="bold" font-style="normal" fill="#fff" text-anchor="start" >TPhP1</text>
<line x1="300.70" y1="387.10" x2="303.7" y2="387.10" stroke="#333" stroke-width="0.9"/>
<text x="292.30" y="389.60" font-size="7.6" font-weight="bold" font-style="normal" fill="#555" text-anchor="middle" >0. 0</text>
<line x1="301.90" y1="375.62" x2="303.7" y2="375.62" stroke="#333" stroke-width="0.9"/>
<line x1="300.70" y1="364.14" x2="303.7" y2="364.14" stroke="#333" stroke-width="0.9"/>
<text x="292.30" y="366.64" font-size="7.6" font-weight="bold" font-style="normal" fill="#555" text-anchor="middle" >0. 1</text>
<line x1="301.90" y1="352.66" x2="303.7" y2="352.66" stroke="#333" stroke-width="0.9"/>
<line x1="300.70" y1="341.19" x2="303.7" y2="341.19" stroke="#333" stroke-width="0.9"/>
<text x="292.30" y="343.69" font-size="7.6" font-weight="bold" font-style="normal" fill="#555" text-anchor="middle" >0. 2</text>
<line x1="301.90" y1="329.71" x2="303.7" y2="329.71" stroke="#333" stroke-width="0.9"/>
<line x1="300.70" y1="318.23" x2="303.7" y2="318.23" stroke="#333" stroke-width="0.9"/>
<text x="292.30" y="320.73" font-size="7.6" font-weight="bold" font-style="normal" fill="#555" text-anchor="middle" >0. 3</text>
<line x1="301.90" y1="306.75" x2="303.7" y2="306.75" stroke="#333" stroke-width="0.9"/>
<line x1="300.70" y1="295.27" x2="303.7" y2="295.27" stroke="#333" stroke-width="0.9"/>
<text x="292.30" y="297.77" font-size="7.6" font-weight="bold" font-style="normal" fill="#555" text-anchor="middle" >0. 4</text>
<line x1="301.90" y1="283.79" x2="303.7" y2="283.79" stroke="#333" stroke-width="0.9"/>
<line x1="300.70" y1="272.31" x2="303.7" y2="272.31" stroke="#333" stroke-width="0.9"/>
<text x="292.30" y="274.81" font-size="7.6" font-weight="bold" font-style="normal" fill="#555" text-anchor="middle" >0. 5</text>
<line x1="301.90" y1="260.84" x2="303.7" y2="260.84" stroke="#333" stroke-width="0.9"/>
<line x1="300.70" y1="249.36" x2="303.7" y2="249.36" stroke="#333" stroke-width="0.9"/>
<text x="292.30" y="251.86" font-size="7.6" font-weight="bold" font-style="normal" fill="#555" text-anchor="middle" >0. 6</text>
<line x1="301.90" y1="237.88" x2="303.7" y2="237.88" stroke="#333" stroke-width="0.9"/>
<line x1="300.70" y1="226.40" x2="303.7" y2="226.40" stroke="#333" stroke-width="0.9"/>
<text x="292.30" y="228.90" font-size="7.6" font-weight="bold" font-style="normal" fill="#555" text-anchor="middle" >0. 7</text>
<line x1="303.70" y1="387.1" x2="303.70" y2="390.1" stroke="#333" stroke-width="0.9"/>
<text x="303.70" y="399.60" font-size="7.6" font-weight="bold" font-style="normal" fill="#555" text-anchor="middle" >10. 0</text>
<line x1="315.97" y1="387.1" x2="315.97" y2="388.90000000000003" stroke="#333" stroke-width="0.9"/>
<line x1="328.23" y1="387.1" x2="328.23" y2="390.1" stroke="#333" stroke-width="0.9"/>
<text x="328.23" y="399.60" font-size="7.6" font-weight="bold" font-style="normal" fill="#555" text-anchor="middle" >10. 5</text>
<line x1="340.50" y1="387.1" x2="340.50" y2="388.90000000000003" stroke="#333" stroke-width="0.9"/>
<line x1="352.77" y1="387.1" x2="352.77" y2="390.1" stroke="#333" stroke-width="0.9"/>
<text x="352.77" y="399.60" font-size="7.6" font-weight="bold" font-style="normal" fill="#555" text-anchor="middle" >11. 0</text>
<line x1="365.03" y1="387.1" x2="365.03" y2="388.90000000000003" stroke="#333" stroke-width="0.9"/>
<line x1="377.30" y1="387.1" x2="377.30" y2="390.1" stroke="#333" stroke-width="0.9"/>
<text x="377.30" y="399.60" font-size="7.6" font-weight="bold" font-style="normal" fill="#555" text-anchor="middle" >11. 5</text>
<line x1="389.57" y1="387.1" x2="389.57" y2="388.90000000000003" stroke="#333" stroke-width="0.9"/>
<line x1="401.83" y1="387.1" x2="401.83" y2="390.1" stroke="#333" stroke-width="0.9"/>
<text x="401.83" y="399.60" font-size="7.6" font-weight="bold" font-style="normal" fill="#555" text-anchor="middle" >12. 0</text>
<line x1="414.10" y1="387.1" x2="414.10" y2="388.90000000000003" stroke="#333" stroke-width="0.9"/>
<line x1="426.37" y1="387.1" x2="426.37" y2="390.1" stroke="#333" stroke-width="0.9"/>
<text x="426.37" y="399.60" font-size="7.6" font-weight="bold" font-style="normal" fill="#555" text-anchor="middle" >12. 5</text>
<line x1="438.63" y1="387.1" x2="438.63" y2="388.90000000000003" stroke="#333" stroke-width="0.9"/>
<line x1="450.90" y1="387.1" x2="450.90" y2="390.1" stroke="#333" stroke-width="0.9"/>
<text x="450.90" y="399.60" font-size="7.6" font-weight="bold" font-style="normal" fill="#555" text-anchor="middle" >13. 0</text>
<text x="384.00" y="419.20" font-size="14.5" font-weight="bold" font-style="normal" fill="#000" text-anchor="middle" >λ (μm)</text>
<text x="0.00" y="0.00" font-size="12.5" font-weight="bold" font-style="normal" fill="#000" text-anchor="middle" transform="translate(272.4,308) rotate(-90)"><tspan font-style="italic">d</tspan><tspan font-size="8" font-style="italic" dy="2">0</tspan><tspan dy="-2"> (μm)</tspan></text>
<rect x="456.7" y="228.1" width="11.7" height="157.8" fill="url(#cbar2)" stroke="#444" stroke-width="0.6"/>
<text x="462.60" y="225.00" font-size="8.5" font-weight="normal" font-style="normal" fill="#555" text-anchor="middle" >1</text>
<text x="462.90" y="392.70" font-size="8.5" font-weight="normal" font-style="normal" fill="#555" text-anchor="middle" >0</text>
</svg></body></html>
